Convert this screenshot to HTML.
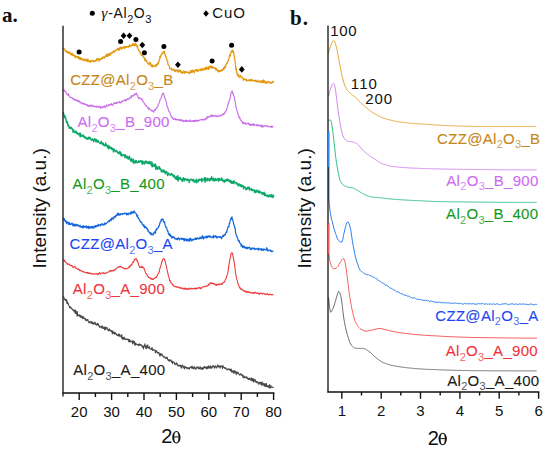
<!DOCTYPE html>
<html><head><meta charset="utf-8"><style>
html,body{margin:0;padding:0;background:#fff;width:550px;height:449px;overflow:hidden;font-family:"Liberation Sans",sans-serif;}
svg{display:block;}
</style></head><body>
<svg width="550" height="449" viewBox="0 0 550 449">
<polyline fill="none" stroke="#E3980F" stroke-width="1.25" stroke-linejoin="round" points="63.0,47.7 63.4,48.4 63.7,48.4 64.1,48.3 64.4,49.1 64.8,49.1 65.1,50.3 65.5,51.7 65.8,50.6 66.2,50.8 66.5,52.0 66.9,52.1 67.2,52.2 67.6,51.6 67.9,52.6 68.3,53.4 68.6,52.0 69.0,53.0 69.3,52.0 69.7,52.7 70.0,52.5 70.4,54.0 70.7,53.4 71.1,54.8 71.4,54.9 71.8,54.8 72.1,53.1 72.5,54.8 72.8,55.4 73.2,55.7 73.5,54.5 73.9,55.5 74.2,55.3 74.6,55.6 74.9,57.2 75.3,55.8 75.6,56.6 76.0,57.5 76.3,56.4 76.7,56.9 77.0,57.2 77.4,57.3 77.7,56.4 78.1,57.6 78.4,58.7 78.8,56.5 79.1,58.6 79.5,58.1 79.8,57.7 80.2,59.9 80.5,59.1 80.9,57.6 81.2,58.8 81.6,59.3 81.9,58.9 82.3,59.7 82.6,59.2 83.0,60.0 83.3,60.7 83.7,59.1 84.0,60.0 84.4,59.5 84.7,60.1 85.1,59.1 85.4,59.7 85.8,60.1 86.1,61.0 86.5,61.3 86.8,59.4 87.2,59.9 87.5,61.1 87.9,59.1 88.2,60.4 88.6,60.7 88.9,61.9 89.3,61.5 89.6,60.7 90.0,60.7 90.3,60.8 90.7,62.3 91.0,60.7 91.4,60.9 91.7,61.4 92.1,61.0 92.4,60.9 92.8,60.2 93.1,61.0 93.5,60.6 93.8,61.8 94.2,61.4 94.5,60.8 94.9,61.2 95.2,60.3 95.6,61.4 95.9,60.4 96.3,60.8 96.6,59.2 97.0,60.4 97.3,58.7 97.7,58.3 98.0,59.6 98.4,59.0 98.7,59.8 99.1,61.3 99.4,58.8 99.8,58.8 100.1,59.4 100.5,59.5 100.8,58.8 101.2,58.6 101.5,59.2 101.9,58.9 102.2,57.5 102.6,58.1 102.9,58.1 103.3,57.0 103.6,57.9 104.0,56.9 104.3,58.2 104.7,57.4 105.0,57.1 105.4,56.4 105.7,56.6 106.1,54.9 106.4,55.4 106.8,56.4 107.1,54.2 107.5,56.3 107.8,54.0 108.2,55.8 108.5,54.3 108.9,55.4 109.2,54.7 109.6,53.1 109.9,55.1 110.3,55.1 110.6,53.6 111.0,53.3 111.3,53.1 111.7,52.3 112.0,53.7 112.4,52.1 112.7,52.3 113.1,51.5 113.4,51.4 113.8,50.6 114.1,52.4 114.5,51.0 114.8,51.7 115.2,50.7 115.5,50.0 115.9,50.0 116.2,49.7 116.6,49.9 116.9,49.5 117.3,49.4 117.6,48.4 118.0,48.7 118.3,50.5 118.7,48.6 119.0,48.2 119.4,49.2 119.7,49.9 120.1,47.5 120.4,48.4 120.8,48.0 121.1,47.0 121.5,48.9 121.8,48.2 122.2,48.2 122.5,47.4 122.9,48.3 123.2,47.4 123.6,47.6 123.9,46.7 124.3,46.5 124.6,48.5 125.0,46.9 125.3,47.4 125.7,47.1 126.0,46.7 126.4,46.5 126.7,47.3 127.1,46.5 127.4,46.5 127.8,46.5 128.1,47.4 128.5,46.9 128.8,46.5 129.2,45.6 129.5,44.9 129.9,46.6 130.2,46.5 130.6,45.5 130.9,45.8 131.3,45.8 131.6,45.7 132.0,45.5 132.3,44.2 132.7,45.7 133.0,43.3 133.4,44.9 133.7,44.5 134.1,44.8 134.4,45.6 134.8,45.4 135.1,43.4 135.5,43.1 135.8,45.3 136.2,44.1 136.5,45.5 136.9,46.9 137.2,45.8 137.6,46.3 137.9,48.9 138.3,49.5 138.6,50.0 139.0,50.9 139.3,50.9 139.7,51.1 140.0,52.8 140.4,52.7 140.7,52.7 141.1,54.9 141.4,54.9 141.8,55.7 142.1,55.0 142.5,55.6 142.8,55.7 143.2,56.2 143.5,57.4 143.9,57.0 144.2,58.4 144.6,58.8 144.9,60.7 145.3,58.5 145.6,60.8 146.0,60.6 146.3,61.2 146.7,60.5 147.0,61.8 147.4,63.2 147.7,62.9 148.1,63.3 148.4,63.3 148.8,64.7 149.1,64.1 149.5,62.6 149.8,64.0 150.2,63.3 150.5,62.5 150.9,64.9 151.2,66.5 151.6,65.7 151.9,64.8 152.3,65.1 152.6,66.9 153.0,66.1 153.3,66.0 153.7,65.9 154.0,66.0 154.4,66.5 154.7,66.3 155.1,65.9 155.4,64.8 155.8,66.0 156.1,64.9 156.5,66.2 156.8,64.1 157.2,64.8 157.5,64.4 157.9,62.6 158.2,64.2 158.6,63.1 158.9,60.6 159.3,60.6 159.6,59.5 160.0,56.2 160.3,57.7 160.7,56.5 161.0,55.8 161.4,54.1 161.7,54.0 162.1,53.4 162.4,53.8 162.8,52.5 163.1,51.8 163.5,52.9 163.8,51.5 164.2,52.1 164.5,51.5 164.9,54.9 165.2,55.1 165.6,55.9 165.9,56.9 166.3,57.7 166.6,59.1 167.0,59.9 167.3,61.0 167.7,62.2 168.0,64.4 168.4,64.7 168.7,65.2 169.1,65.6 169.4,66.4 169.8,68.8 170.1,68.5 170.5,68.5 170.8,68.5 171.2,68.1 171.5,69.2 171.9,70.2 172.2,69.4 172.6,69.7 172.9,69.9 173.3,70.2 173.6,68.9 174.0,70.1 174.3,69.7 174.7,71.1 175.0,69.8 175.4,70.9 175.7,71.7 176.1,70.3 176.4,70.1 176.8,70.7 177.1,70.6 177.5,69.9 177.8,71.1 178.2,72.4 178.5,70.6 178.9,70.7 179.2,70.1 179.6,71.3 179.9,70.1 180.3,70.4 180.6,72.4 181.0,70.8 181.3,72.5 181.7,72.9 182.0,72.0 182.4,72.3 182.7,73.5 183.1,71.9 183.4,71.6 183.8,71.0 184.1,72.2 184.5,73.3 184.8,72.9 185.2,71.4 185.5,71.5 185.9,71.8 186.2,72.5 186.6,72.1 186.9,72.4 187.3,72.5 187.6,72.0 188.0,72.2 188.3,72.4 188.7,72.2 189.0,72.7 189.4,73.8 189.7,72.8 190.1,72.3 190.4,70.9 190.8,72.5 191.1,70.5 191.5,70.8 191.8,72.5 192.2,72.2 192.5,71.4 192.9,70.0 193.2,70.9 193.6,70.6 193.9,71.5 194.3,72.8 194.6,71.1 195.0,70.2 195.3,69.8 195.7,70.7 196.0,70.5 196.4,69.7 196.7,70.6 197.1,69.6 197.4,71.3 197.8,71.3 198.1,71.2 198.5,69.9 198.8,70.7 199.2,70.1 199.5,69.9 199.9,69.9 200.2,69.0 200.6,68.9 200.9,70.6 201.3,69.7 201.6,70.0 202.0,70.6 202.3,68.3 202.7,69.0 203.0,69.7 203.4,69.7 203.7,69.0 204.1,70.0 204.4,69.2 204.8,68.0 205.1,68.0 205.5,69.3 205.8,68.9 206.2,66.8 206.5,69.3 206.9,68.6 207.2,69.0 207.6,67.5 207.9,67.4 208.3,66.7 208.6,69.5 209.0,67.2 209.3,68.6 209.7,66.7 210.0,67.3 210.4,65.8 210.7,66.8 211.1,67.9 211.4,66.1 211.8,68.1 212.1,67.6 212.5,66.6 212.8,67.2 213.2,67.4 213.5,68.0 213.9,67.8 214.2,67.7 214.6,68.3 214.9,67.9 215.3,67.9 215.6,69.1 216.0,70.0 216.3,68.3 216.7,69.8 217.0,69.5 217.4,69.5 217.7,71.2 218.1,70.3 218.4,72.0 218.8,70.3 219.1,71.4 219.5,70.9 219.8,70.5 220.2,71.5 220.5,70.8 220.9,71.3 221.2,70.7 221.6,69.7 221.9,70.2 222.3,70.2 222.6,70.6 223.0,68.9 223.3,69.3 223.7,67.7 224.0,69.3 224.4,67.6 224.7,66.5 225.1,67.4 225.4,67.7 225.8,64.9 226.1,64.5 226.5,64.1 226.8,63.0 227.2,63.4 227.5,61.7 227.9,60.9 228.2,61.1 228.6,59.0 228.9,59.0 229.3,56.9 229.6,55.7 230.0,54.3 230.3,56.2 230.7,53.2 231.0,52.5 231.4,51.3 231.7,50.7 232.1,50.4 232.4,52.2 232.8,50.4 233.1,50.8 233.5,52.3 233.8,53.3 234.2,56.3 234.5,58.3 234.9,59.9 235.2,62.7 235.6,66.0 235.9,69.5 236.3,68.2 236.6,72.7 237.0,72.8 237.3,75.3 237.7,74.1 238.0,75.1 238.4,74.5 238.7,75.2 239.1,77.3 239.4,77.1 239.8,76.3 240.1,76.1 240.5,75.5 240.8,76.9 241.2,77.3 241.5,77.5 241.9,77.7 242.2,77.0 242.6,78.1 242.9,78.4 243.3,79.6 243.6,80.3 244.0,78.9 244.3,78.7 244.7,79.4 245.0,79.2 245.4,79.3 245.7,80.0 246.1,79.3 246.4,80.8 246.8,80.3 247.1,80.7 247.5,80.4 247.8,80.0 248.2,79.8 248.5,80.4 248.9,80.2 249.2,80.9 249.6,80.7 249.9,79.6 250.3,80.8 250.6,79.7 251.0,80.3 251.3,80.6 251.7,79.2 252.0,80.9 252.4,81.0 252.7,80.8 253.1,80.6 253.4,80.7 253.8,80.2 254.1,80.8 254.5,80.6 254.8,81.2 255.2,80.2 255.5,81.4 255.9,81.4 256.2,81.2 256.6,81.0 256.9,81.8 257.3,80.1 257.6,81.8 258.0,81.7 258.3,81.7 258.7,81.8 259.0,81.0 259.4,81.4 259.7,82.1 260.1,82.0 260.4,81.8 260.8,80.5 261.1,82.2 261.5,82.7 261.8,82.6 262.2,82.0 262.5,80.6 262.9,82.6 263.2,81.8 263.6,79.9 263.9,82.3 264.3,80.8 264.6,81.0 265.0,81.5 265.3,83.1 265.7,81.8 266.0,82.3 266.4,83.5 266.7,83.4 267.1,82.1 267.4,82.0 267.8,81.2 268.1,81.7 268.5,82.6 268.8,82.6 269.2,82.4 269.5,83.1 269.9,81.7 270.2,82.3 270.6,82.9 270.9,82.8 271.3,83.3 271.6,82.7 272.0,82.2 272.3,82.7 272.7,81.7 273.0,81.2 273.4,83.0"/>
<polyline fill="none" stroke="#C86BE8" stroke-width="1.1" stroke-linejoin="round" points="63.3,89.6 63.7,90.3 64.1,89.7 64.5,91.0 64.9,91.4 65.3,91.7 65.7,91.4 66.1,92.9 66.5,94.1 66.9,94.2 67.3,94.0 67.7,94.7 68.1,95.5 68.5,93.9 68.9,95.6 69.3,96.3 69.7,96.7 70.1,97.5 70.5,97.5 70.9,97.3 71.3,97.5 71.7,98.0 72.1,97.5 72.5,98.0 72.9,98.8 73.3,99.6 73.7,98.7 74.1,98.9 74.5,99.3 74.9,100.1 75.3,99.6 75.7,100.6 76.1,99.5 76.5,100.2 76.9,100.4 77.3,101.2 77.7,101.5 78.1,100.4 78.5,100.9 78.9,101.8 79.3,101.5 79.7,101.2 80.1,102.8 80.5,102.8 80.9,103.0 81.3,102.6 81.7,103.6 82.1,103.1 82.5,104.0 82.9,103.1 83.3,103.3 83.7,104.0 84.1,103.6 84.5,104.5 84.9,104.4 85.3,103.9 85.7,104.6 86.1,104.5 86.5,105.3 86.9,104.5 87.3,104.7 87.7,105.8 88.1,106.4 88.5,106.4 88.9,105.4 89.3,105.6 89.7,106.4 90.1,105.6 90.5,105.2 90.9,105.9 91.3,106.1 91.7,105.5 92.1,105.1 92.5,105.3 92.9,106.5 93.3,105.8 93.7,106.2 94.1,106.5 94.5,106.8 94.9,106.3 95.3,106.8 95.7,106.1 96.1,106.5 96.5,106.2 96.9,107.4 97.3,106.8 97.7,106.5 98.1,106.7 98.5,106.8 98.9,107.4 99.3,106.1 99.7,106.4 100.1,106.8 100.5,108.4 100.9,107.5 101.3,106.9 101.7,107.3 102.1,108.0 102.5,106.7 102.9,106.5 103.3,107.3 103.7,106.9 104.1,106.9 104.5,106.1 104.9,107.4 105.3,107.2 105.7,106.4 106.1,106.4 106.5,104.8 106.9,106.2 107.3,105.6 107.7,105.8 108.1,105.9 108.5,105.2 108.9,104.3 109.3,105.4 109.7,104.7 110.1,104.8 110.5,104.5 110.9,104.6 111.3,103.4 111.7,105.2 112.1,104.6 112.5,105.0 112.9,105.3 113.3,104.1 113.7,103.0 114.1,103.4 114.5,103.1 114.9,103.4 115.3,103.6 115.7,102.3 116.1,103.5 116.5,102.3 116.9,103.2 117.3,102.8 117.7,102.6 118.1,102.6 118.5,102.2 118.9,102.0 119.3,101.3 119.7,102.1 120.1,103.0 120.5,102.9 120.9,102.4 121.3,102.0 121.7,101.1 122.1,102.1 122.5,101.1 122.9,101.0 123.3,100.7 123.7,100.8 124.1,100.4 124.5,100.4 124.9,99.7 125.3,100.0 125.7,101.3 126.1,99.8 126.5,99.6 126.9,99.8 127.3,99.7 127.7,98.5 128.1,98.8 128.5,99.2 128.9,98.7 129.3,98.3 129.7,98.8 130.1,97.3 130.5,97.5 130.9,96.8 131.3,97.7 131.7,95.5 132.1,95.9 132.5,95.7 132.9,96.0 133.3,95.8 133.7,95.9 134.1,94.1 134.5,95.1 134.9,94.3 135.3,93.8 135.7,94.3 136.1,93.5 136.5,93.2 136.9,94.8 137.3,95.0 137.7,96.2 138.1,97.3 138.5,97.6 138.9,98.7 139.3,98.0 139.7,97.5 140.1,98.2 140.5,98.4 140.9,98.5 141.3,99.7 141.7,99.4 142.1,99.0 142.5,100.9 142.9,100.9 143.3,101.7 143.7,102.2 144.1,103.0 144.5,103.3 144.9,104.6 145.3,104.8 145.7,105.4 146.1,106.0 146.5,105.5 146.9,106.8 147.3,107.2 147.7,107.8 148.1,107.3 148.5,109.3 148.9,108.8 149.3,108.4 149.7,108.5 150.1,109.6 150.5,110.0 150.9,109.9 151.3,110.6 151.7,110.3 152.1,111.2 152.5,110.6 152.9,111.0 153.3,111.5 153.7,112.3 154.1,110.1 154.5,110.2 154.9,109.7 155.3,110.2 155.7,108.8 156.1,108.7 156.5,108.6 156.9,107.6 157.3,107.1 157.7,106.6 158.1,104.8 158.5,104.2 158.9,103.6 159.3,102.8 159.7,101.4 160.1,99.4 160.5,99.0 160.9,98.7 161.3,97.5 161.7,96.0 162.1,94.5 162.5,94.4 162.9,93.3 163.3,93.1 163.7,93.9 164.1,96.1 164.5,96.6 164.9,98.4 165.3,98.8 165.7,100.7 166.1,101.2 166.5,102.9 166.9,105.8 167.3,106.4 167.7,107.2 168.1,108.8 168.5,110.2 168.9,111.6 169.3,111.6 169.7,111.9 170.1,113.6 170.5,114.6 170.9,115.4 171.3,116.8 171.7,116.9 172.1,117.8 172.5,117.2 172.9,118.6 173.3,119.4 173.7,118.9 174.1,118.8 174.5,118.9 174.9,119.9 175.3,118.6 175.7,119.2 176.1,119.6 176.5,119.9 176.9,119.3 177.3,119.9 177.7,119.6 178.1,119.9 178.5,119.9 178.9,119.4 179.3,120.1 179.7,120.6 180.1,119.7 180.5,120.1 180.9,120.7 181.3,119.8 181.7,120.5 182.1,119.8 182.5,121.1 182.9,121.8 183.3,121.6 183.7,120.4 184.1,121.0 184.5,120.7 184.9,120.7 185.3,121.5 185.7,120.0 186.1,121.3 186.5,120.8 186.9,121.6 187.3,120.9 187.7,120.5 188.1,121.0 188.5,121.3 188.9,120.9 189.3,121.2 189.7,120.7 190.1,119.8 190.5,121.5 190.9,121.4 191.3,121.1 191.7,121.0 192.1,121.6 192.5,120.7 192.9,120.6 193.3,120.9 193.7,121.6 194.1,120.2 194.5,121.6 194.9,120.6 195.3,120.3 195.7,121.5 196.1,120.7 196.5,120.0 196.9,120.5 197.3,121.1 197.7,121.2 198.1,120.2 198.5,120.6 198.9,120.7 199.3,119.9 199.7,120.4 200.1,120.1 200.5,119.7 200.9,119.6 201.3,119.9 201.7,119.8 202.1,119.3 202.5,119.3 202.9,120.1 203.3,119.5 203.7,119.8 204.1,119.8 204.5,119.3 204.9,120.1 205.3,118.2 205.7,118.9 206.1,118.0 206.5,119.0 206.9,118.7 207.3,116.4 207.7,116.7 208.1,117.4 208.5,117.3 208.9,117.0 209.3,116.4 209.7,116.6 210.1,116.5 210.5,116.0 210.9,116.6 211.3,114.8 211.7,116.3 212.1,115.4 212.5,116.5 212.9,115.9 213.3,115.5 213.7,116.2 214.1,115.5 214.5,115.5 214.9,115.1 215.3,116.0 215.7,116.3 216.1,116.6 216.5,115.9 216.9,116.6 217.3,116.0 217.7,115.9 218.1,116.3 218.5,116.6 218.9,115.8 219.3,115.8 219.7,115.8 220.1,115.9 220.5,115.2 220.9,116.1 221.3,115.1 221.7,115.3 222.1,114.4 222.5,114.7 222.9,114.4 223.3,113.6 223.7,114.6 224.1,113.3 224.5,113.7 224.9,112.8 225.3,111.5 225.7,111.1 226.1,110.9 226.5,109.8 226.9,108.8 227.3,107.4 227.7,105.3 228.1,104.8 228.5,102.4 228.9,102.5 229.3,100.6 229.7,99.3 230.1,97.9 230.5,96.4 230.9,93.7 231.3,92.2 231.7,91.6 232.1,90.9 232.5,91.9 232.9,94.2 233.3,93.9 233.7,96.2 234.1,96.4 234.5,98.7 234.9,100.2 235.3,102.3 235.7,104.8 236.1,107.6 236.5,108.8 236.9,110.6 237.3,111.6 237.7,113.6 238.1,114.2 238.5,115.8 238.9,116.3 239.3,118.2 239.7,117.0 240.1,118.7 240.5,120.1 240.9,120.2 241.3,120.5 241.7,121.3 242.1,121.2 242.5,122.3 242.9,123.8 243.3,123.3 243.7,122.2 244.1,122.5 244.5,122.9 244.9,123.9 245.3,123.0 245.7,123.2 246.1,124.2 246.5,124.3 246.9,123.7 247.3,123.4 247.7,123.2 248.1,123.7 248.5,123.0 248.9,124.7 249.3,124.0 249.7,124.7 250.1,125.5 250.5,125.2 250.9,124.0 251.3,125.1 251.7,125.4 252.1,124.4 252.5,124.3 252.9,124.8 253.3,124.0 253.7,125.8 254.1,123.7 254.5,124.5 254.9,125.0 255.3,125.0 255.7,125.3 256.1,125.4 256.5,125.1 256.9,125.9 257.3,124.2 257.7,125.4 258.1,125.0 258.5,125.5 258.9,125.6 259.3,125.0 259.7,125.2 260.1,126.0 260.5,125.8 260.9,125.3 261.3,126.8 261.7,127.0 262.1,124.9 262.5,126.0 262.9,127.2 263.3,126.3 263.7,126.0 264.1,125.8 264.5,125.7 264.9,125.9 265.3,125.8 265.7,126.5 266.1,125.9 266.5,125.9 266.9,125.6 267.3,126.2 267.7,125.8 268.1,126.3 268.5,127.0 268.9,126.6 269.3,126.8 269.7,126.7 270.1,126.6 270.5,126.5 270.9,126.5 271.3,127.1 271.7,126.1 272.1,127.5 272.5,126.8 272.9,126.4 273.3,126.6"/>
<polyline fill="none" stroke="#0EA86A" stroke-width="1.4" stroke-linejoin="round" points="63.3,112.0 63.6,114.0 64.0,114.3 64.3,117.2 64.7,116.4 65.1,116.0 65.4,118.3 65.8,118.0 66.1,120.6 66.5,122.4 66.8,122.7 67.2,121.5 67.5,122.7 67.9,125.7 68.2,124.8 68.6,125.1 68.9,126.6 69.3,128.4 69.6,127.7 70.0,127.1 70.3,127.7 70.7,128.3 71.0,127.6 71.4,127.5 71.7,128.9 72.1,128.3 72.4,129.5 72.8,130.0 73.1,132.4 73.5,129.7 73.8,130.7 74.2,131.0 74.5,131.8 74.9,132.7 75.2,131.5 75.6,131.5 75.9,131.0 76.3,131.9 76.6,133.6 77.0,133.4 77.3,132.6 77.7,133.4 78.0,134.0 78.4,134.7 78.7,133.9 79.1,134.4 79.4,133.1 79.8,133.9 80.1,136.8 80.5,133.3 80.8,135.3 81.2,136.0 81.5,135.6 81.9,135.3 82.2,136.2 82.6,136.4 82.9,136.5 83.3,134.9 83.6,136.7 84.0,136.1 84.3,136.5 84.7,137.4 85.0,137.9 85.4,138.3 85.7,137.0 86.1,138.5 86.4,138.8 86.8,138.9 87.1,139.2 87.5,137.9 87.8,138.0 88.2,139.0 88.5,137.1 88.9,138.7 89.2,138.1 89.6,138.3 89.9,137.2 90.3,138.1 90.6,139.0 91.0,140.0 91.3,140.2 91.7,139.3 92.0,139.3 92.4,138.8 92.7,140.1 93.1,139.6 93.4,140.5 93.8,141.7 94.1,140.1 94.5,138.8 94.8,139.5 95.2,139.0 95.5,139.4 95.9,141.8 96.2,140.9 96.6,139.4 96.9,141.5 97.3,142.2 97.6,140.8 98.0,140.6 98.3,141.1 98.7,141.8 99.0,142.3 99.4,143.0 99.7,143.2 100.1,143.4 100.4,143.7 100.8,143.2 101.1,141.3 101.5,142.9 101.8,143.5 102.2,143.0 102.5,144.4 102.9,143.4 103.2,143.1 103.6,145.5 103.9,145.0 104.3,144.8 104.6,145.6 105.0,145.9 105.3,145.4 105.7,143.0 106.0,144.9 106.4,145.3 106.7,145.0 107.1,146.3 107.4,147.4 107.8,146.0 108.1,145.6 108.5,148.8 108.8,146.6 109.2,146.1 109.5,147.6 109.9,148.0 110.2,147.1 110.6,148.7 110.9,147.6 111.3,147.4 111.6,148.6 112.0,149.3 112.3,148.2 112.7,149.3 113.0,149.0 113.4,152.0 113.7,148.8 114.1,151.0 114.4,149.8 114.8,149.9 115.1,150.9 115.5,151.2 115.8,151.8 116.2,151.1 116.5,150.4 116.9,150.7 117.2,151.9 117.6,152.2 117.9,153.1 118.3,152.4 118.6,153.3 119.0,153.9 119.3,152.8 119.7,151.5 120.0,152.0 120.4,152.0 120.7,155.1 121.1,153.0 121.4,155.2 121.8,154.7 122.1,156.0 122.5,155.6 122.8,154.7 123.2,154.8 123.5,155.3 123.9,155.6 124.2,155.2 124.6,155.9 124.9,157.6 125.3,154.7 125.6,156.8 126.0,155.9 126.3,157.1 126.7,157.9 127.0,157.3 127.4,158.3 127.7,156.2 128.1,159.0 128.4,157.5 128.8,158.9 129.1,158.7 129.5,156.3 129.8,158.2 130.2,159.3 130.5,160.8 130.9,159.8 131.2,159.9 131.6,158.5 131.9,161.4 132.3,162.0 132.6,160.4 133.0,160.4 133.3,159.2 133.7,161.7 134.0,163.5 134.4,161.8 134.7,162.4 135.1,161.8 135.4,160.5 135.8,162.8 136.1,160.4 136.5,161.5 136.8,162.0 137.2,162.7 137.5,162.3 137.9,162.4 138.2,161.4 138.6,160.9 138.9,162.3 139.3,161.6 139.6,161.1 140.0,161.1 140.3,161.9 140.7,160.6 141.0,161.1 141.4,160.9 141.7,162.6 142.1,162.8 142.4,164.4 142.8,161.0 143.1,161.8 143.5,163.4 143.8,162.3 144.2,162.2 144.5,164.1 144.9,162.2 145.2,161.4 145.6,161.3 145.9,162.9 146.3,162.8 146.6,161.3 147.0,161.7 147.3,163.1 147.7,163.2 148.0,162.1 148.4,163.4 148.7,163.5 149.1,161.4 149.4,162.9 149.8,163.7 150.1,162.9 150.5,161.6 150.8,163.5 151.2,164.6 151.5,165.6 151.9,162.1 152.2,166.9 152.6,163.5 152.9,165.7 153.3,166.2 153.6,166.1 154.0,165.5 154.3,164.5 154.7,166.4 155.0,165.4 155.4,163.9 155.7,169.2 156.1,167.4 156.4,168.7 156.8,166.3 157.1,168.8 157.5,169.1 157.8,169.3 158.2,168.0 158.5,167.1 158.9,168.3 159.2,166.6 159.6,167.3 159.9,169.2 160.3,168.4 160.6,169.4 161.0,169.6 161.3,171.8 161.7,171.4 162.0,170.3 162.4,171.7 162.7,170.1 163.1,170.7 163.4,172.1 163.8,170.2 164.1,171.3 164.5,170.5 164.8,172.0 165.2,173.7 165.5,171.6 165.9,172.7 166.2,171.8 166.6,171.7 166.9,171.8 167.3,174.5 167.6,175.6 168.0,173.9 168.3,173.0 168.7,174.5 169.0,173.7 169.4,174.9 169.7,174.6 170.1,174.8 170.4,175.2 170.8,174.3 171.1,174.6 171.5,173.5 171.8,174.9 172.2,174.2 172.5,175.6 172.9,175.0 173.2,176.2 173.6,176.8 173.9,175.2 174.3,175.9 174.6,176.0 175.0,177.8 175.3,178.9 175.7,178.3 176.0,177.3 176.4,179.2 176.7,176.5 177.1,179.5 177.4,177.5 177.8,175.6 178.1,180.9 178.5,179.9 178.8,177.5 179.2,178.8 179.5,178.5 179.9,178.9 180.2,177.4 180.6,178.3 180.9,179.4 181.3,179.3 181.6,180.3 182.0,179.2 182.3,181.5 182.7,178.6 183.0,179.6 183.4,177.6 183.7,178.3 184.1,180.8 184.4,178.6 184.8,180.1 185.1,179.6 185.5,178.7 185.8,179.4 186.2,179.2 186.5,179.3 186.9,180.5 187.2,180.4 187.6,179.3 187.9,179.0 188.3,180.2 188.6,179.8 189.0,180.9 189.3,182.5 189.7,180.8 190.0,180.0 190.4,179.9 190.7,179.3 191.1,179.2 191.4,179.2 191.8,179.8 192.1,179.8 192.5,180.9 192.8,179.8 193.2,180.0 193.5,179.1 193.9,181.8 194.2,180.7 194.6,182.0 194.9,181.0 195.3,181.7 195.6,180.1 196.0,181.0 196.3,182.9 196.7,179.1 197.0,181.4 197.4,181.9 197.7,180.7 198.1,181.0 198.4,181.4 198.8,179.5 199.1,180.5 199.5,179.2 199.8,179.4 200.2,179.4 200.5,179.8 200.9,180.0 201.2,180.3 201.6,178.4 201.9,181.7 202.3,180.8 202.6,180.4 203.0,179.3 203.3,179.5 203.7,180.1 204.0,179.9 204.4,177.8 204.7,180.1 205.1,182.2 205.4,177.6 205.8,180.3 206.1,179.7 206.5,179.2 206.8,180.6 207.2,178.1 207.5,179.5 207.9,180.7 208.2,179.1 208.6,178.9 208.9,179.4 209.3,178.9 209.6,180.8 210.0,178.4 210.3,180.2 210.7,178.1 211.0,180.0 211.4,179.2 211.7,176.8 212.1,179.3 212.4,178.3 212.8,178.9 213.1,180.8 213.5,178.2 213.8,178.3 214.2,180.7 214.5,179.4 214.9,180.8 215.2,179.6 215.6,178.4 215.9,179.2 216.3,180.5 216.6,180.2 217.0,179.3 217.3,179.3 217.7,179.2 218.0,178.7 218.4,181.2 218.7,179.4 219.1,178.3 219.4,178.9 219.8,180.2 220.1,180.1 220.5,179.4 220.8,178.9 221.2,179.7 221.5,178.0 221.9,178.5 222.2,180.6 222.6,179.4 222.9,180.3 223.3,181.2 223.6,180.7 224.0,180.2 224.3,182.3 224.7,181.0 225.0,180.0 225.4,181.2 225.7,180.9 226.1,179.8 226.4,180.8 226.8,180.6 227.1,178.9 227.5,180.8 227.8,180.7 228.2,180.6 228.5,179.5 228.9,180.9 229.2,181.3 229.6,181.5 229.9,180.4 230.3,182.2 230.6,180.5 231.0,181.6 231.3,183.2 231.7,181.3 232.0,181.6 232.4,183.3 232.7,182.0 233.1,182.2 233.4,182.8 233.8,183.7 234.1,180.6 234.5,182.1 234.8,182.1 235.2,182.1 235.5,182.5 235.9,182.6 236.2,183.8 236.6,182.8 236.9,183.9 237.3,184.3 237.6,183.4 238.0,184.4 238.3,186.0 238.7,184.9 239.0,184.1 239.4,184.8 239.7,184.1 240.1,185.4 240.4,186.2 240.8,184.7 241.1,185.5 241.5,186.9 241.8,185.5 242.2,186.3 242.5,185.3 242.9,185.7 243.2,186.1 243.6,188.9 243.9,186.6 244.3,186.6 244.6,186.7 245.0,187.2 245.3,188.1 245.7,187.8 246.0,189.8 246.4,188.1 246.7,189.5 247.1,188.5 247.4,188.9 247.8,187.1 248.1,188.5 248.5,188.7 248.8,188.7 249.2,187.0 249.5,190.0 249.9,188.9 250.2,189.0 250.6,189.3 250.9,189.5 251.3,190.2 251.6,188.7 252.0,189.2 252.3,190.5 252.7,190.4 253.0,190.1 253.4,190.0 253.7,189.9 254.1,190.8 254.4,192.1 254.8,190.0 255.1,192.6 255.5,192.1 255.8,191.0 256.2,192.3 256.5,190.3 256.9,190.1 257.2,190.7 257.6,191.6 257.9,191.8 258.3,191.8 258.6,192.5 259.0,190.5 259.3,193.1 259.7,191.4 260.0,192.2 260.4,192.6 260.7,192.0 261.1,191.9 261.4,192.3 261.8,193.4 262.1,194.1 262.5,194.2 262.8,192.8 263.2,193.1 263.5,193.1 263.9,194.5 264.2,192.3 264.6,195.5 264.9,193.9 265.3,193.8 265.6,195.0 266.0,195.7 266.3,195.2 266.7,196.0 267.0,195.2 267.4,196.3 267.7,196.5 268.1,195.3 268.4,196.9 268.8,195.8 269.1,195.8 269.5,194.9 269.8,195.6 270.2,196.8 270.5,194.9 270.9,196.9 271.2,196.7 271.6,196.7 271.9,194.4 272.3,196.6 272.6,197.4 273.0,196.1 273.3,197.0 273.7,194.8"/>
<polyline fill="none" stroke="#1466DC" stroke-width="1.2" stroke-linejoin="round" points="63.3,219.1 63.6,218.6 64.0,220.0 64.3,218.5 64.7,220.7 65.1,220.5 65.4,221.6 65.8,220.7 66.1,221.3 66.5,223.6 66.8,221.7 67.2,222.0 67.5,222.6 67.9,222.2 68.2,223.9 68.6,224.4 68.9,222.8 69.3,222.3 69.6,224.4 70.0,224.4 70.3,224.3 70.7,224.7 71.0,223.3 71.4,223.9 71.7,223.1 72.1,223.2 72.4,224.9 72.8,223.9 73.1,226.0 73.5,224.5 73.8,224.1 74.2,225.2 74.5,225.9 74.9,225.1 75.2,224.0 75.6,225.2 75.9,225.9 76.3,224.7 76.6,224.6 77.0,226.0 77.3,225.5 77.7,224.7 78.0,225.3 78.4,225.1 78.7,226.0 79.1,226.0 79.4,226.8 79.8,226.6 80.1,225.1 80.5,226.6 80.8,227.1 81.2,226.9 81.5,227.4 81.9,226.4 82.2,226.2 82.6,227.6 82.9,226.3 83.3,225.6 83.6,227.9 84.0,226.7 84.3,227.1 84.7,226.3 85.0,226.4 85.4,226.6 85.7,227.1 86.1,227.7 86.4,225.8 86.8,227.9 87.1,226.5 87.5,226.6 87.8,227.8 88.2,227.3 88.5,226.2 88.9,228.6 89.2,226.6 89.6,227.4 89.9,227.3 90.3,228.1 90.6,226.8 91.0,227.7 91.3,226.5 91.7,227.7 92.0,226.4 92.4,226.6 92.7,228.1 93.1,227.0 93.4,226.8 93.8,228.2 94.1,226.8 94.5,226.0 94.8,227.0 95.2,225.6 95.5,227.2 95.9,227.1 96.2,225.8 96.6,225.7 96.9,226.2 97.3,226.0 97.6,225.3 98.0,226.3 98.3,224.3 98.7,225.4 99.0,225.3 99.4,225.3 99.7,225.6 100.1,224.5 100.4,225.6 100.8,225.0 101.1,224.5 101.5,223.9 101.8,224.0 102.2,224.9 102.5,223.9 102.9,224.5 103.2,225.0 103.6,224.9 103.9,225.1 104.3,223.7 104.6,223.0 105.0,224.3 105.3,223.6 105.7,224.0 106.0,223.0 106.4,223.6 106.7,223.1 107.1,222.7 107.4,222.3 107.8,222.0 108.1,221.6 108.5,221.4 108.8,221.6 109.2,220.3 109.5,221.6 109.9,220.0 110.2,220.5 110.6,219.5 110.9,219.2 111.3,220.5 111.6,218.6 112.0,217.7 112.3,217.9 112.7,218.0 113.0,219.5 113.4,217.8 113.7,218.1 114.1,216.5 114.4,217.2 114.8,217.2 115.1,217.7 115.5,215.7 115.8,216.4 116.2,215.9 116.5,214.8 116.9,215.3 117.2,214.9 117.6,213.2 117.9,215.1 118.3,214.9 118.6,214.1 119.0,213.3 119.3,215.2 119.7,214.2 120.0,214.7 120.4,214.9 120.7,213.6 121.1,214.4 121.4,213.7 121.8,213.8 122.1,213.7 122.5,213.8 122.8,214.5 123.2,213.8 123.5,213.6 123.9,213.5 124.2,213.9 124.6,213.0 124.9,213.3 125.3,213.6 125.6,213.2 126.0,213.5 126.3,213.1 126.7,214.9 127.0,214.4 127.4,213.8 127.7,213.4 128.1,214.9 128.4,213.6 128.8,213.2 129.1,213.4 129.5,213.3 129.8,214.0 130.2,212.9 130.5,214.2 130.9,212.0 131.2,213.0 131.6,211.7 131.9,213.6 132.3,212.0 132.6,212.1 133.0,212.7 133.3,212.9 133.7,211.2 134.0,211.8 134.4,211.1 134.7,212.5 135.1,212.7 135.4,213.0 135.8,213.2 136.1,213.9 136.5,214.1 136.8,215.5 137.2,216.9 137.5,215.1 137.9,217.0 138.2,217.5 138.6,218.8 138.9,218.5 139.3,219.7 139.6,219.7 140.0,221.4 140.3,221.5 140.7,221.8 141.0,222.6 141.4,222.6 141.7,222.1 142.1,224.1 142.4,224.3 142.8,224.4 143.1,225.6 143.5,226.1 143.8,224.9 144.2,225.5 144.5,227.5 144.9,227.8 145.2,226.6 145.6,226.7 145.9,227.4 146.3,227.9 146.6,227.6 147.0,229.2 147.3,228.7 147.7,229.2 148.0,231.2 148.4,230.5 148.7,231.4 149.1,232.3 149.4,232.9 149.8,232.4 150.1,233.0 150.5,232.7 150.8,234.8 151.2,234.2 151.5,233.2 151.9,234.0 152.2,234.5 152.6,234.3 152.9,235.1 153.3,234.6 153.6,233.0 154.0,233.0 154.3,231.9 154.7,232.6 155.0,232.1 155.4,233.5 155.7,231.2 156.1,229.2 156.4,229.8 156.8,229.8 157.1,228.4 157.5,228.2 157.8,228.0 158.2,228.0 158.5,227.0 158.9,225.8 159.2,226.1 159.6,224.2 159.9,223.3 160.3,221.7 160.6,221.3 161.0,221.5 161.3,219.2 161.7,219.8 162.0,220.0 162.4,219.1 162.7,219.7 163.1,219.2 163.4,221.5 163.8,222.0 164.1,222.3 164.5,221.7 164.8,223.1 165.2,225.4 165.5,226.7 165.9,226.5 166.2,228.0 166.6,227.7 166.9,228.9 167.3,230.0 167.6,231.3 168.0,230.9 168.3,233.5 168.7,234.6 169.0,233.5 169.4,234.0 169.7,235.6 170.1,235.1 170.4,234.2 170.8,236.6 171.1,236.4 171.5,236.2 171.8,238.2 172.2,237.0 172.5,236.5 172.9,237.3 173.2,236.7 173.6,237.0 173.9,237.9 174.3,237.4 174.6,237.6 175.0,239.2 175.3,238.7 175.7,238.8 176.0,238.7 176.4,238.7 176.7,239.5 177.1,238.5 177.4,239.9 177.8,238.0 178.1,238.5 178.5,237.8 178.8,238.6 179.2,239.2 179.5,239.9 179.9,238.5 180.2,239.0 180.6,238.8 180.9,238.6 181.3,238.3 181.6,239.3 182.0,238.1 182.3,239.4 182.7,239.4 183.0,238.9 183.4,238.7 183.7,238.5 184.1,240.8 184.4,238.6 184.8,240.6 185.1,240.0 185.5,239.3 185.8,238.8 186.2,240.4 186.5,240.9 186.9,239.0 187.2,239.5 187.6,240.4 187.9,239.9 188.3,241.1 188.6,239.3 189.0,240.1 189.3,238.8 189.7,241.1 190.0,239.1 190.4,238.1 190.7,239.5 191.1,239.5 191.4,240.9 191.8,239.2 192.1,239.4 192.5,239.8 192.8,240.4 193.2,239.2 193.5,239.9 193.9,239.5 194.2,238.9 194.6,239.1 194.9,239.0 195.3,238.3 195.6,239.7 196.0,237.8 196.3,239.5 196.7,239.3 197.0,238.5 197.4,238.0 197.7,238.3 198.1,238.7 198.4,238.9 198.8,238.5 199.1,238.9 199.5,237.8 199.8,238.3 200.2,237.0 200.5,238.5 200.9,238.0 201.2,237.6 201.6,238.6 201.9,238.2 202.3,235.7 202.6,237.6 203.0,236.5 203.3,238.2 203.7,239.1 204.0,236.9 204.4,237.3 204.7,237.0 205.1,237.3 205.4,237.5 205.8,237.9 206.1,236.2 206.5,237.9 206.8,236.1 207.2,236.9 207.5,237.5 207.9,237.1 208.2,235.9 208.6,236.1 208.9,236.2 209.3,236.5 209.6,237.3 210.0,235.6 210.3,236.8 210.7,236.9 211.0,236.9 211.4,236.9 211.7,237.6 212.1,236.9 212.4,237.2 212.8,237.0 213.1,237.9 213.5,235.4 213.8,237.7 214.2,236.6 214.5,236.6 214.9,236.2 215.2,235.6 215.6,236.7 215.9,236.6 216.3,237.4 216.6,236.1 217.0,238.2 217.3,237.4 217.7,237.1 218.0,236.8 218.4,236.8 218.7,236.6 219.1,237.0 219.4,237.4 219.8,237.3 220.1,236.5 220.5,237.3 220.8,236.9 221.2,237.6 221.5,238.8 221.9,237.8 222.2,237.0 222.6,235.9 222.9,235.7 223.3,235.2 223.6,236.6 224.0,235.2 224.3,235.3 224.7,234.4 225.0,234.4 225.4,234.8 225.7,232.9 226.1,232.6 226.4,231.7 226.8,232.3 227.1,230.1 227.5,229.0 227.8,227.7 228.2,226.5 228.5,226.6 228.9,226.9 229.2,223.3 229.6,223.6 229.9,222.0 230.3,219.9 230.6,219.4 231.0,218.5 231.3,217.6 231.7,219.3 232.0,216.9 232.4,219.2 232.7,220.2 233.1,220.8 233.4,222.6 233.8,224.5 234.1,225.3 234.5,226.7 234.8,228.3 235.2,227.9 235.5,232.0 235.9,234.1 236.2,234.8 236.6,236.3 236.9,235.9 237.3,237.9 237.6,238.2 238.0,239.1 238.3,241.0 238.7,240.4 239.0,241.5 239.4,240.9 239.7,242.7 240.1,243.5 240.4,243.4 240.8,243.9 241.1,246.1 241.5,244.4 241.8,244.8 242.2,245.3 242.5,246.9 242.9,247.7 243.2,246.7 243.6,246.1 243.9,246.4 244.3,247.6 244.6,246.3 245.0,248.1 245.3,248.2 245.7,247.4 246.0,247.9 246.4,248.0 246.7,248.7 247.1,247.0 247.4,248.6 247.8,247.6 248.1,247.4 248.5,248.1 248.8,247.9 249.2,247.4 249.5,247.1 249.9,247.6 250.2,249.3 250.6,249.7 250.9,248.9 251.3,249.3 251.6,248.1 252.0,248.5 252.3,248.8 252.7,247.9 253.0,248.0 253.4,248.8 253.7,248.5 254.1,248.0 254.4,249.1 254.8,248.7 255.1,249.6 255.5,248.9 255.8,248.7 256.2,249.0 256.5,248.9 256.9,248.5 257.2,248.8 257.6,249.6 257.9,249.5 258.3,250.0 258.6,248.0 259.0,248.9 259.3,248.9 259.7,249.3 260.0,248.9 260.4,248.9 260.7,249.9 261.1,249.5 261.4,248.6 261.8,250.3 262.1,250.1 262.5,249.1 262.8,250.1 263.2,249.1 263.5,250.4 263.9,249.5 264.2,249.1 264.6,249.5 264.9,249.3 265.3,250.0 265.6,250.0 266.0,250.0 266.3,249.6 266.7,247.5 267.0,250.2 267.4,248.8 267.7,250.4 268.1,251.1 268.4,250.5 268.8,250.1 269.1,250.3 269.5,250.4 269.8,250.2 270.2,250.2 270.5,250.1 270.9,251.6 271.2,250.8 271.6,251.6 271.9,250.8 272.3,251.1 272.6,251.0 273.0,251.5 273.3,251.8"/>
<polyline fill="none" stroke="#F03C3C" stroke-width="1.1" stroke-linejoin="round" points="63.3,259.5 63.7,259.6 64.1,260.0 64.5,261.4 64.9,261.1 65.3,261.5 65.7,262.6 66.1,262.9 66.5,263.0 66.9,263.0 67.3,264.4 67.7,263.9 68.1,264.3 68.5,264.3 68.9,264.0 69.3,264.3 69.7,265.2 70.1,265.4 70.5,265.4 70.9,265.2 71.3,265.3 71.7,265.9 72.1,265.6 72.5,266.8 72.9,267.0 73.3,267.9 73.7,267.3 74.1,266.9 74.5,266.9 74.9,266.1 75.3,267.4 75.7,267.8 76.1,268.4 76.5,268.5 76.9,268.7 77.3,268.8 77.7,269.2 78.1,269.7 78.5,268.9 78.9,269.4 79.3,269.3 79.7,270.7 80.1,270.8 80.5,270.8 80.9,270.2 81.3,271.0 81.7,271.0 82.1,271.3 82.5,271.4 82.9,271.8 83.3,271.6 83.7,272.3 84.1,272.1 84.5,272.0 84.9,272.2 85.3,272.2 85.7,272.8 86.1,272.5 86.5,272.8 86.9,272.7 87.3,272.3 87.7,273.4 88.1,272.7 88.5,273.5 88.9,273.5 89.3,272.8 89.7,273.1 90.1,273.4 90.5,273.3 90.9,273.3 91.3,274.1 91.7,273.8 92.1,274.1 92.5,273.8 92.9,274.1 93.3,273.7 93.7,274.0 94.1,274.2 94.5,274.0 94.9,273.8 95.3,273.5 95.7,274.0 96.1,274.1 96.5,273.8 96.9,273.6 97.3,274.1 97.7,274.8 98.1,273.7 98.5,273.9 98.9,273.8 99.3,272.6 99.7,273.7 100.1,273.3 100.5,274.1 100.9,273.3 101.3,273.1 101.7,273.3 102.1,273.3 102.5,273.0 102.9,273.1 103.3,272.6 103.7,273.0 104.1,273.3 104.5,273.7 104.9,273.1 105.3,272.9 105.7,273.2 106.1,273.0 106.5,273.2 106.9,272.8 107.3,272.3 107.7,272.3 108.1,272.1 108.5,272.1 108.9,271.9 109.3,271.4 109.7,270.7 110.1,271.2 110.5,270.5 110.9,271.2 111.3,271.0 111.7,270.2 112.1,271.0 112.5,270.9 112.9,270.5 113.3,270.9 113.7,270.9 114.1,269.5 114.5,270.2 114.9,269.7 115.3,269.5 115.7,269.4 116.1,268.5 116.5,268.2 116.9,267.8 117.3,267.6 117.7,267.6 118.1,266.8 118.5,266.8 118.9,267.2 119.3,266.9 119.7,267.0 120.1,266.0 120.5,266.5 120.9,266.7 121.3,267.1 121.7,267.0 122.1,267.8 122.5,267.6 122.9,267.8 123.3,268.0 123.7,268.4 124.1,268.1 124.5,268.9 124.9,268.7 125.3,268.7 125.7,268.6 126.1,268.8 126.5,268.9 126.9,268.7 127.3,268.3 127.7,268.3 128.1,267.8 128.5,268.0 128.9,267.2 129.3,266.1 129.7,267.2 130.1,266.4 130.5,265.5 130.9,265.4 131.3,264.5 131.7,265.1 132.1,263.8 132.5,262.3 132.9,262.6 133.3,261.6 133.7,262.0 134.1,260.3 134.5,259.3 134.9,259.8 135.3,259.2 135.7,259.0 136.1,258.3 136.5,259.7 136.9,260.9 137.3,260.3 137.7,262.3 138.1,262.5 138.5,264.9 138.9,265.4 139.3,266.3 139.7,267.5 140.1,267.5 140.5,267.0 140.9,267.4 141.3,266.8 141.7,266.2 142.1,267.6 142.5,266.7 142.9,267.0 143.3,267.9 143.7,267.7 144.1,268.5 144.5,269.7 144.9,270.7 145.3,271.9 145.7,273.2 146.1,273.4 146.5,274.4 146.9,275.1 147.3,275.0 147.7,276.1 148.1,276.1 148.5,277.4 148.9,277.6 149.3,277.7 149.7,277.5 150.1,278.3 150.5,278.1 150.9,278.9 151.3,278.8 151.7,278.6 152.1,279.4 152.5,279.4 152.9,278.9 153.3,279.5 153.7,278.7 154.1,278.5 154.5,278.5 154.9,277.8 155.3,277.7 155.7,277.5 156.1,277.7 156.5,277.2 156.9,275.9 157.3,276.0 157.7,274.6 158.1,274.0 158.5,273.3 158.9,272.0 159.3,271.6 159.7,269.4 160.1,267.5 160.5,267.2 160.9,265.3 161.3,264.1 161.7,261.6 162.1,261.8 162.5,260.4 162.9,259.4 163.3,258.8 163.7,258.9 164.1,258.6 164.5,259.9 164.9,260.5 165.3,261.9 165.7,263.8 166.1,265.3 166.5,266.5 166.9,269.2 167.3,270.8 167.7,272.3 168.1,274.5 168.5,275.9 168.9,277.1 169.3,278.7 169.7,281.0 170.1,280.5 170.5,281.8 170.9,282.6 171.3,283.2 171.7,283.0 172.1,283.9 172.5,284.5 172.9,285.2 173.3,285.0 173.7,285.1 174.1,286.3 174.5,286.6 174.9,286.5 175.3,286.3 175.7,286.8 176.1,286.8 176.5,287.2 176.9,286.5 177.3,287.2 177.7,287.2 178.1,286.9 178.5,287.6 178.9,287.6 179.3,287.5 179.7,288.0 180.1,287.3 180.5,288.0 180.9,288.2 181.3,288.3 181.7,288.6 182.1,287.8 182.5,287.7 182.9,288.5 183.3,288.6 183.7,289.3 184.1,288.8 184.5,288.2 184.9,288.9 185.3,288.2 185.7,288.0 186.1,289.6 186.5,288.7 186.9,288.9 187.3,288.8 187.7,289.3 188.1,288.7 188.5,289.1 188.9,288.2 189.3,288.0 189.7,289.1 190.1,289.1 190.5,288.7 190.9,288.6 191.3,288.6 191.7,288.2 192.1,289.1 192.5,288.7 192.9,288.6 193.3,288.6 193.7,288.8 194.1,288.6 194.5,288.7 194.9,287.9 195.3,288.5 195.7,289.2 196.1,288.1 196.5,288.2 196.9,288.6 197.3,288.6 197.7,288.4 198.1,287.5 198.5,288.3 198.9,287.6 199.3,287.6 199.7,288.1 200.1,287.7 200.5,288.1 200.9,289.0 201.3,288.0 201.7,287.9 202.1,287.1 202.5,287.1 202.9,286.9 203.3,287.0 203.7,286.7 204.1,286.7 204.5,286.8 204.9,286.4 205.3,286.1 205.7,286.0 206.1,286.6 206.5,286.2 206.9,286.4 207.3,286.1 207.7,285.2 208.1,285.3 208.5,284.1 208.9,285.3 209.3,284.5 209.7,283.7 210.1,283.1 210.5,283.5 210.9,282.5 211.3,282.9 211.7,283.5 212.1,283.3 212.5,283.2 212.9,283.9 213.3,283.2 213.7,283.9 214.1,283.8 214.5,283.8 214.9,284.5 215.3,284.1 215.7,285.3 216.1,284.4 216.5,285.5 216.9,284.3 217.3,284.9 217.7,284.2 218.1,284.1 218.5,284.6 218.9,284.8 219.3,283.9 219.7,284.9 220.1,284.0 220.5,284.2 220.9,284.2 221.3,284.2 221.7,283.1 222.1,284.3 222.5,283.8 222.9,283.2 223.3,282.8 223.7,282.3 224.1,282.0 224.5,282.1 224.9,281.0 225.3,279.8 225.7,279.1 226.1,278.8 226.5,276.9 226.9,275.5 227.3,275.0 227.7,273.2 228.1,271.1 228.5,268.4 228.9,265.3 229.3,262.7 229.7,260.6 230.1,258.6 230.5,256.6 230.9,254.6 231.3,253.1 231.7,252.7 232.1,252.8 232.5,253.6 232.9,255.8 233.3,257.5 233.7,259.6 234.1,261.8 234.5,264.1 234.9,267.2 235.3,270.8 235.7,273.8 236.1,276.0 236.5,278.3 236.9,279.5 237.3,280.5 237.7,282.3 238.1,284.2 238.5,284.3 238.9,286.1 239.3,287.1 239.7,287.9 240.1,287.6 240.5,289.2 240.9,288.8 241.3,289.0 241.7,289.3 242.1,289.9 242.5,290.0 242.9,290.1 243.3,290.9 243.7,290.4 244.1,290.4 244.5,291.3 244.9,291.5 245.3,291.8 245.7,291.0 246.1,292.0 246.5,291.9 246.9,292.5 247.3,291.4 247.7,292.1 248.1,292.0 248.5,291.5 248.9,291.9 249.3,292.8 249.7,292.2 250.1,292.2 250.5,292.9 250.9,293.0 251.3,293.0 251.7,292.4 252.1,292.7 252.5,293.2 252.9,292.6 253.3,292.6 253.7,293.3 254.1,293.6 254.5,292.6 254.9,292.0 255.3,292.5 255.7,292.7 256.1,293.1 256.5,293.5 256.9,293.2 257.3,293.0 257.7,293.4 258.1,293.0 258.5,293.4 258.9,293.2 259.3,294.6 259.7,293.9 260.1,293.3 260.5,293.2 260.9,293.5 261.3,293.1 261.7,293.5 262.1,293.5 262.5,294.2 262.9,293.7 263.3,293.6 263.7,293.4 264.1,293.5 264.5,294.0 264.9,294.0 265.3,294.6 265.7,293.9 266.1,294.6 266.5,294.3 266.9,294.2 267.3,293.5 267.7,293.8 268.1,294.6 268.5,294.9 268.9,294.5 269.3,294.7 269.7,294.3 270.1,294.3 270.5,294.2 270.9,294.9 271.3,294.7 271.7,294.5 272.1,294.5 272.5,294.9 272.9,294.8 273.3,294.4"/>
<polyline fill="none" stroke="#484848" stroke-width="1.1" stroke-linejoin="round" points="63.3,297.5 63.6,296.9 64.0,297.3 64.3,299.3 64.7,299.6 65.1,299.2 65.4,300.4 65.8,299.5 66.1,300.5 66.5,299.6 66.8,303.3 67.2,301.0 67.5,303.9 67.9,303.0 68.2,303.4 68.6,304.6 68.9,305.5 69.3,306.2 69.6,307.7 70.0,306.9 70.3,307.8 70.7,306.9 71.0,308.5 71.4,308.4 71.7,308.2 72.1,308.9 72.4,309.3 72.8,309.9 73.1,310.5 73.5,310.0 73.8,310.1 74.2,311.8 74.5,310.0 74.9,311.3 75.2,313.5 75.6,310.0 75.9,312.1 76.3,313.7 76.6,311.9 77.0,316.0 77.3,311.6 77.7,315.5 78.0,315.9 78.4,315.6 78.7,314.9 79.1,315.6 79.4,314.8 79.8,316.6 80.1,315.1 80.5,316.1 80.8,317.4 81.2,315.8 81.5,316.7 81.9,317.4 82.2,316.2 82.6,318.7 82.9,318.1 83.3,316.7 83.6,318.2 84.0,317.8 84.3,318.1 84.7,318.9 85.0,318.4 85.4,320.1 85.7,318.8 86.1,320.5 86.4,319.7 86.8,320.7 87.1,319.7 87.5,319.9 87.8,319.5 88.2,321.2 88.5,321.7 88.9,322.9 89.2,322.4 89.6,321.6 89.9,321.4 90.3,322.1 90.6,321.9 91.0,323.4 91.3,323.1 91.7,321.6 92.0,321.9 92.4,323.9 92.7,323.1 93.1,322.8 93.4,324.2 93.8,323.0 94.1,323.2 94.5,323.2 94.8,322.0 95.2,324.7 95.5,323.0 95.9,323.7 96.2,323.7 96.6,325.1 96.9,324.6 97.3,324.8 97.6,323.4 98.0,325.0 98.3,323.9 98.7,325.7 99.0,325.9 99.4,325.7 99.7,327.7 100.1,326.5 100.4,326.7 100.8,326.5 101.1,326.3 101.5,327.6 101.8,327.9 102.2,325.9 102.5,328.2 102.9,327.8 103.2,328.4 103.6,328.1 103.9,326.8 104.3,327.0 104.6,329.9 105.0,328.7 105.3,327.3 105.7,329.1 106.0,328.6 106.4,327.5 106.7,327.3 107.1,328.1 107.4,329.9 107.8,329.8 108.1,329.8 108.5,330.5 108.8,330.9 109.2,328.7 109.5,330.5 109.9,330.2 110.2,330.0 110.6,330.8 110.9,331.3 111.3,331.4 111.6,330.5 112.0,331.5 112.3,334.0 112.7,331.4 113.0,331.0 113.4,332.9 113.7,333.4 114.1,333.4 114.4,332.2 114.8,334.3 115.1,332.8 115.5,332.7 115.8,333.4 116.2,334.0 116.5,334.9 116.9,335.0 117.2,334.6 117.6,335.6 117.9,335.0 118.3,335.9 118.6,334.0 119.0,334.1 119.3,336.3 119.7,334.6 120.0,335.7 120.4,336.1 120.7,335.9 121.1,336.1 121.4,338.0 121.8,334.6 122.1,337.9 122.5,339.3 122.8,337.5 123.2,337.6 123.5,338.4 123.9,339.6 124.2,337.1 124.6,338.4 124.9,338.4 125.3,339.2 125.6,339.0 126.0,339.6 126.3,338.9 126.7,339.5 127.0,339.0 127.4,339.2 127.7,339.8 128.1,340.0 128.4,339.2 128.8,341.8 129.1,340.5 129.5,339.5 129.8,341.9 130.2,340.4 130.5,341.7 130.9,341.4 131.2,341.8 131.6,341.8 131.9,341.3 132.3,342.0 132.6,344.0 133.0,340.3 133.3,342.5 133.7,343.0 134.0,341.8 134.4,341.6 134.7,344.9 135.1,342.8 135.4,345.2 135.8,343.9 136.1,343.6 136.5,344.1 136.8,344.4 137.2,345.0 137.5,344.5 137.9,344.4 138.2,344.5 138.6,345.7 138.9,345.3 139.3,343.8 139.6,344.3 140.0,345.3 140.3,344.5 140.7,344.9 141.0,344.5 141.4,345.2 141.7,345.9 142.1,346.5 142.4,345.7 142.8,347.7 143.1,345.9 143.5,348.9 143.8,347.0 144.2,346.7 144.5,345.8 144.9,343.8 145.2,346.3 145.6,346.7 145.9,348.4 146.3,345.5 146.6,348.6 147.0,346.7 147.3,347.7 147.7,344.9 148.0,347.4 148.4,347.1 148.7,348.1 149.1,347.7 149.4,346.7 149.8,348.8 150.1,348.7 150.5,348.7 150.8,349.3 151.2,349.5 151.5,348.7 151.9,347.6 152.2,347.8 152.6,350.5 152.9,350.1 153.3,349.7 153.6,349.5 154.0,350.1 154.3,350.3 154.7,350.2 155.0,350.1 155.4,352.9 155.7,351.4 156.1,350.9 156.4,350.5 156.8,351.2 157.1,352.8 157.5,353.0 157.8,352.4 158.2,352.9 158.5,352.8 158.9,352.3 159.2,354.7 159.6,354.1 159.9,356.2 160.3,353.5 160.6,354.2 161.0,355.4 161.3,354.6 161.7,353.8 162.0,354.4 162.4,355.6 162.7,356.0 163.1,355.8 163.4,357.1 163.8,357.3 164.1,356.9 164.5,356.9 164.8,356.8 165.2,357.8 165.5,358.3 165.9,357.8 166.2,358.4 166.6,357.9 166.9,357.1 167.3,357.7 167.6,359.5 168.0,359.4 168.3,360.7 168.7,359.5 169.0,360.5 169.4,361.1 169.7,361.0 170.1,359.8 170.4,360.4 170.8,360.9 171.1,360.1 171.5,361.6 171.8,362.4 172.2,361.2 172.5,363.7 172.9,361.8 173.2,362.1 173.6,362.3 173.9,362.1 174.3,363.3 174.6,363.1 175.0,364.8 175.3,364.0 175.7,364.2 176.0,363.7 176.4,362.7 176.7,364.1 177.1,363.6 177.4,365.3 177.8,364.6 178.1,366.2 178.5,365.5 178.8,365.7 179.2,365.3 179.5,365.4 179.9,365.9 180.2,366.3 180.6,365.0 180.9,366.2 181.3,368.2 181.6,365.9 182.0,365.8 182.3,365.6 182.7,365.0 183.0,367.5 183.4,366.5 183.7,366.9 184.1,368.3 184.4,369.0 184.8,366.1 185.1,367.9 185.5,367.6 185.8,367.4 186.2,367.6 186.5,367.2 186.9,368.7 187.2,367.9 187.6,367.7 187.9,368.6 188.3,368.3 188.6,367.9 189.0,367.9 189.3,369.2 189.7,368.1 190.0,367.6 190.4,366.9 190.7,367.4 191.1,366.8 191.4,367.9 191.8,368.1 192.1,366.0 192.5,367.9 192.8,368.5 193.2,368.1 193.5,367.1 193.9,369.1 194.2,367.4 194.6,366.9 194.9,367.1 195.3,368.1 195.6,369.0 196.0,369.2 196.3,368.3 196.7,367.1 197.0,367.6 197.4,367.4 197.7,368.0 198.1,366.6 198.4,368.3 198.8,368.8 199.1,368.1 199.5,368.6 199.8,367.4 200.2,366.9 200.5,367.6 200.9,369.2 201.2,369.1 201.6,367.7 201.9,369.2 202.3,367.7 202.6,369.4 203.0,368.4 203.3,367.5 203.7,368.6 204.0,367.1 204.4,366.9 204.7,366.4 205.1,367.9 205.4,367.6 205.8,367.5 206.1,367.2 206.5,368.8 206.8,367.1 207.2,366.7 207.5,368.5 207.9,368.6 208.2,367.6 208.6,365.7 208.9,366.7 209.3,367.7 209.6,367.2 210.0,368.5 210.3,365.9 210.7,367.7 211.0,366.5 211.4,368.2 211.7,367.0 212.1,367.9 212.4,366.4 212.8,365.7 213.1,365.9 213.5,366.4 213.8,366.0 214.2,368.0 214.5,368.1 214.9,367.1 215.2,365.9 215.6,366.7 215.9,366.2 216.3,368.1 216.6,367.1 217.0,367.2 217.3,366.4 217.7,364.9 218.0,366.1 218.4,365.7 218.7,367.1 219.1,366.8 219.4,366.0 219.8,366.4 220.1,368.1 220.5,365.8 220.8,365.9 221.2,366.5 221.5,366.1 221.9,366.4 222.2,367.3 222.6,368.5 222.9,365.4 223.3,367.2 223.6,367.4 224.0,367.4 224.3,367.5 224.7,367.5 225.0,368.9 225.4,367.8 225.7,368.3 226.1,368.6 226.4,368.9 226.8,368.8 227.1,370.0 227.5,369.2 227.8,369.5 228.2,369.5 228.5,368.7 228.9,369.0 229.2,368.9 229.6,370.2 229.9,369.5 230.3,369.3 230.6,370.6 231.0,371.0 231.3,369.0 231.7,372.3 232.0,370.9 232.4,370.9 232.7,372.1 233.1,371.3 233.4,370.8 233.8,373.4 234.1,370.6 234.5,371.6 234.8,372.6 235.2,371.0 235.5,372.0 235.9,372.6 236.2,374.6 236.6,371.8 236.9,372.7 237.3,373.5 237.6,373.1 238.0,372.1 238.3,373.7 238.7,373.6 239.0,374.1 239.4,374.9 239.7,375.0 240.1,374.6 240.4,374.7 240.8,373.6 241.1,374.7 241.5,375.2 241.8,374.8 242.2,375.5 242.5,374.8 242.9,377.1 243.2,377.9 243.6,375.8 243.9,376.7 244.3,376.3 244.6,377.8 245.0,377.3 245.3,377.1 245.7,377.0 246.0,377.5 246.4,376.7 246.7,378.3 247.1,377.2 247.4,378.5 247.8,378.3 248.1,379.3 248.5,378.5 248.8,379.6 249.2,378.0 249.5,379.5 249.9,378.9 250.2,379.4 250.6,379.5 250.9,380.4 251.3,377.9 251.6,380.1 252.0,378.6 252.3,381.2 252.7,378.5 253.0,379.5 253.4,379.0 253.7,382.1 254.1,379.6 254.4,381.0 254.8,380.6 255.1,379.6 255.5,381.0 255.8,382.1 256.2,381.4 256.5,382.6 256.9,381.6 257.2,382.0 257.6,381.8 257.9,382.6 258.3,384.1 258.6,382.9 259.0,382.9 259.3,382.3 259.7,382.3 260.0,384.4 260.4,382.2 260.7,382.5 261.1,383.4 261.4,383.2 261.8,385.5 262.1,381.7 262.5,384.3 262.8,384.8 263.2,383.3 263.5,383.8 263.9,384.9 264.2,386.1 264.6,383.9 264.9,383.5 265.3,385.9 265.6,386.5 266.0,385.0 266.3,383.4 266.7,386.8 267.0,385.5 267.4,386.8 267.7,385.8 268.1,385.7 268.4,385.7 268.8,387.6 269.1,387.6 269.5,384.5 269.8,385.7 270.2,388.3 270.5,386.5 270.9,385.7 271.2,387.1 271.6,387.1 271.9,387.2 272.3,387.0 272.6,387.2 273.0,387.2 273.3,388.0"/>
<polyline fill="none" stroke="#E9A73A" stroke-width="1.0" stroke-linejoin="round" points="328.3,53.4 329.3,50.0 330.3,46.9 331.3,44.2 332.3,41.9 333.3,40.6 334.3,41.0 335.3,43.2 336.3,46.8 337.3,51.0 338.3,56.1 339.3,61.6 340.3,66.8 341.3,72.2 342.3,77.1 343.3,80.9 344.3,84.0 345.3,86.5 346.3,88.6 347.3,90.2 348.3,91.4 349.3,92.4 350.3,93.3 351.3,94.2 352.3,95.0 353.3,95.7 354.3,96.5 355.3,97.2 356.3,98.0 357.3,99.0 358.3,100.2 359.3,101.3 360.3,102.4 361.3,103.4 362.3,104.3 363.3,105.1 364.3,106.0 365.3,106.8 366.3,107.7 367.3,108.5 368.3,109.4 369.3,110.2 370.3,111.0 371.3,111.7 372.3,112.3 373.3,112.9 374.3,113.5 375.3,114.0 376.3,114.5 377.3,115.1 378.3,115.7 379.3,116.2 380.3,116.7 381.3,117.2 382.3,117.6 383.3,118.0 384.3,118.3 385.3,118.6 386.3,118.9 387.3,119.2 388.3,119.5 389.3,119.8 390.3,120.0 391.3,120.3 392.3,120.5 393.3,120.7 394.3,121.0 395.3,121.2 396.3,121.4 397.3,121.5 398.3,121.7 399.3,121.9 400.3,122.0 401.3,122.2 402.3,122.3 403.3,122.5 404.3,122.6 405.3,122.7 406.3,122.8 407.3,122.9 408.3,123.0 409.3,123.1 410.3,123.2 411.3,123.3 412.3,123.4 413.3,123.5 414.3,123.6 415.3,123.7 416.3,123.7 417.3,123.8 418.3,123.8 419.3,123.9 420.3,123.9 421.3,124.0 422.3,124.0 423.3,124.1 424.3,124.2 425.3,124.2 426.3,124.3 427.3,124.4 428.3,124.4 429.3,124.5 430.3,124.6 431.3,124.6 432.3,124.7 433.3,124.8 434.3,124.8 435.3,124.9 436.3,125.0 437.3,125.0 438.3,125.1 439.3,125.2 440.3,125.3 441.3,125.3 442.3,125.4 443.3,125.5 444.3,125.5 445.3,125.6 446.3,125.6 447.3,125.7 448.3,125.7 449.3,125.8 450.3,125.8 451.3,125.9 452.3,125.9 453.3,125.9 454.3,125.9 455.3,126.0 456.3,126.0 457.3,126.0 458.3,126.1 459.3,126.1 460.3,126.1 461.3,126.1 462.3,126.2 463.3,126.2 464.3,126.2 465.3,126.2 466.3,126.3 467.3,126.3 468.3,126.3 469.3,126.3 470.3,126.3 471.3,126.3 472.3,126.4 473.3,126.4 474.3,126.4 475.3,126.4 476.3,126.4 477.3,126.4 478.3,126.4 479.3,126.4 480.3,126.4 481.3,126.4 482.3,126.4 483.3,126.4 484.3,126.4 485.3,126.4 486.3,126.4 487.3,126.4 488.3,126.4 489.3,126.4 490.3,126.4 491.3,126.4 492.3,126.4 493.3,126.4 494.3,126.4 495.3,126.4 496.3,126.4 497.3,126.4 498.3,126.4 499.3,126.4 500.3,126.4 501.3,126.4 502.3,126.4 503.3,126.4 504.3,126.4 505.3,126.4 506.3,126.4 507.3,126.4 508.3,126.4 509.3,126.4 510.3,126.4 511.3,126.4 512.3,126.4 513.3,126.4 514.3,126.4 515.3,126.4 516.3,126.4 517.3,126.4 518.3,126.4 519.3,126.4 520.3,126.4 521.3,126.4 522.3,126.4 523.3,126.4 524.3,126.4 525.3,126.4 526.3,126.4 527.3,126.4 528.3,126.4 529.3,126.4 530.3,126.4 531.3,126.4 532.3,126.4 533.3,126.4 534.3,126.4 535.3,126.4 536.3,126.4"/>
<polyline fill="none" stroke="#D288F0" stroke-width="1.0" stroke-linejoin="round" points="328.6,96.0 329.6,91.7 330.6,88.3 331.6,85.8 332.6,84.0 333.6,83.2 334.6,84.8 335.6,90.5 336.6,98.6 337.6,107.0 338.6,114.2 339.6,120.5 340.6,126.4 341.6,131.4 342.6,134.9 343.6,137.4 344.6,138.8 345.6,139.9 346.6,140.8 347.6,141.3 348.6,141.4 349.6,141.5 350.6,141.6 351.6,141.7 352.6,141.9 353.6,142.1 354.6,142.5 355.6,143.0 356.6,143.6 357.6,144.2 358.6,145.1 359.6,146.2 360.6,147.5 361.6,148.8 362.6,149.9 363.6,150.9 364.6,151.8 365.6,152.6 366.6,153.5 367.6,154.3 368.6,155.0 369.6,155.8 370.6,156.5 371.6,157.1 372.6,157.7 373.6,158.3 374.6,158.9 375.6,159.6 376.6,160.3 377.6,161.0 378.6,161.7 379.6,162.3 380.6,162.9 381.6,163.5 382.6,163.8 383.6,164.2 384.6,164.5 385.6,164.8 386.6,165.1 387.6,165.4 388.6,165.7 389.6,165.9 390.6,166.1 391.6,166.3 392.6,166.5 393.6,166.6 394.6,166.7 395.6,166.8 396.6,166.9 397.6,167.0 398.6,167.1 399.6,167.2 400.6,167.3 401.6,167.4 402.6,167.4 403.6,167.5 404.6,167.6 405.6,167.7 406.6,167.7 407.6,167.8 408.6,167.8 409.6,167.9 410.6,168.0 411.6,168.0 412.6,168.1 413.6,168.1 414.6,168.2 415.6,168.2 416.6,168.2 417.6,168.3 418.6,168.3 419.6,168.4 420.6,168.4 421.6,168.4 422.6,168.5 423.6,168.5 424.6,168.5 425.6,168.6 426.6,168.6 427.6,168.6 428.6,168.7 429.6,168.7 430.6,168.7 431.6,168.8 432.6,168.8 433.6,168.8 434.6,168.8 435.6,168.9 436.6,168.9 437.6,168.9 438.6,168.9 439.6,169.0 440.6,169.0 441.6,169.0 442.6,169.0 443.6,169.0 444.6,169.1 445.6,169.1 446.6,169.1 447.6,169.1 448.6,169.1 449.6,169.2 450.6,169.2 451.6,169.2 452.6,169.2 453.6,169.2 454.6,169.2 455.6,169.3 456.6,169.3 457.6,169.3 458.6,169.3 459.6,169.3 460.6,169.3 461.6,169.3 462.6,169.4 463.6,169.4 464.6,169.4 465.6,169.4 466.6,169.4 467.6,169.4 468.6,169.4 469.6,169.4 470.6,169.4 471.6,169.5 472.6,169.5 473.6,169.5 474.6,169.5 475.6,169.5 476.6,169.5 477.6,169.5 478.6,169.5 479.6,169.5 480.6,169.6 481.6,169.6 482.6,169.6 483.6,169.6 484.6,169.6 485.6,169.6 486.6,169.6 487.6,169.6 488.6,169.6 489.6,169.6 490.6,169.7 491.6,169.7 492.6,169.7 493.6,169.7 494.6,169.7 495.6,169.7 496.6,169.7 497.6,169.7 498.6,169.7 499.6,169.7 500.6,169.7 501.6,169.7 502.6,169.8 503.6,169.8 504.6,169.8 505.6,169.8 506.6,169.8 507.6,169.8 508.6,169.8 509.6,169.8 510.6,169.8 511.6,169.8 512.6,169.8 513.6,169.8 514.6,169.8 515.6,169.8 516.6,169.8 517.6,169.8 518.6,169.9 519.6,169.9 520.6,169.9 521.6,169.9 522.6,169.9 523.6,169.9 524.6,169.9 525.6,169.9 526.6,169.9 527.6,169.9 528.6,169.9 529.6,169.9 530.6,169.9 531.6,169.9 532.6,169.9 533.6,169.9 534.6,169.9 535.6,169.9 536.6,169.9"/>
<polyline fill="none" stroke="#34C088" stroke-width="1.0" stroke-linejoin="round" points="328.6,121.2 329.6,119.7 330.6,120.2 331.6,122.6 332.6,130.0 333.6,138.2 334.6,147.0 335.6,156.3 336.6,163.5 337.6,169.4 338.6,174.5 339.6,179.2 340.6,181.5 341.6,183.2 342.6,184.4 343.6,185.2 344.6,185.8 345.6,186.3 346.6,186.7 347.6,187.0 348.6,187.3 349.6,187.4 350.6,187.6 351.6,187.7 352.6,187.9 353.6,188.3 354.6,188.8 355.6,189.3 356.6,189.9 357.6,190.5 358.6,191.1 359.6,191.7 360.6,192.3 361.6,192.9 362.6,193.5 363.6,194.1 364.6,194.6 365.6,195.0 366.6,195.4 367.6,195.8 368.6,196.1 369.6,196.5 370.6,196.7 371.6,196.9 372.6,197.1 373.6,197.2 374.6,197.3 375.6,197.4 376.6,197.4 377.6,197.5 378.6,197.6 379.6,197.7 380.6,197.8 381.6,198.0 382.6,198.1 383.6,198.2 384.6,198.3 385.6,198.4 386.6,198.5 387.6,198.6 388.6,198.8 389.6,198.9 390.6,199.0 391.6,199.1 392.6,199.2 393.6,199.2 394.6,199.3 395.6,199.4 396.6,199.5 397.6,199.5 398.6,199.6 399.6,199.7 400.6,199.7 401.6,199.8 402.6,199.9 403.6,199.9 404.6,200.0 405.6,200.0 406.6,200.1 407.6,200.1 408.6,200.2 409.6,200.3 410.6,200.3 411.6,200.4 412.6,200.4 413.6,200.5 414.6,200.5 415.6,200.6 416.6,200.6 417.6,200.7 418.6,200.7 419.6,200.7 420.6,200.8 421.6,200.8 422.6,200.9 423.6,200.9 424.6,201.0 425.6,201.0 426.6,201.1 427.6,201.1 428.6,201.2 429.6,201.2 430.6,201.3 431.6,201.3 432.6,201.4 433.6,201.4 434.6,201.5 435.6,201.5 436.6,201.5 437.6,201.6 438.6,201.6 439.6,201.6 440.6,201.6 441.6,201.6 442.6,201.6 443.6,201.7 444.6,201.7 445.6,201.7 446.6,201.7 447.6,201.7 448.6,201.7 449.6,201.8 450.6,201.8 451.6,201.8 452.6,201.8 453.6,201.8 454.6,201.8 455.6,201.8 456.6,201.9 457.6,201.9 458.6,201.9 459.6,201.9 460.6,201.9 461.6,201.9 462.6,201.9 463.6,201.9 464.6,202.0 465.6,202.0 466.6,202.0 467.6,202.0 468.6,202.0 469.6,202.0 470.6,202.0 471.6,202.0 472.6,202.0 473.6,202.1 474.6,202.1 475.6,202.1 476.6,202.1 477.6,202.1 478.6,202.1 479.6,202.1 480.6,202.1 481.6,202.1 482.6,202.1 483.6,202.2 484.6,202.2 485.6,202.2 486.6,202.2 487.6,202.2 488.6,202.2 489.6,202.2 490.6,202.2 491.6,202.2 492.6,202.2 493.6,202.2 494.6,202.2 495.6,202.3 496.6,202.3 497.6,202.3 498.6,202.3 499.6,202.3 500.6,202.3 501.6,202.3 502.6,202.3 503.6,202.3 504.6,202.3 505.6,202.3 506.6,202.3 507.6,202.3 508.6,202.3 509.6,202.3 510.6,202.3 511.6,202.3 512.6,202.3 513.6,202.4 514.6,202.4 515.6,202.4 516.6,202.4 517.6,202.4 518.6,202.4 519.6,202.4 520.6,202.4 521.6,202.4 522.6,202.4 523.6,202.4 524.6,202.4 525.6,202.4 526.6,202.4 527.6,202.4 528.6,202.4 529.6,202.4 530.6,202.4 531.6,202.4 532.6,202.4 533.6,202.4 534.6,202.4 535.6,202.4 536.6,202.4"/>
<polyline fill="none" stroke="#2A80EE" stroke-width="1.0" stroke-linejoin="round" points="329.1,200.9 329.9,210.1 330.7,215.2 331.5,219.2 332.3,222.0 333.1,225.0 333.9,228.3 334.7,230.9 335.5,233.4 336.3,235.5 337.1,237.9 337.9,239.6 338.7,240.5 339.5,241.2 340.3,242.0 341.1,242.1 341.9,242.1 342.7,239.7 343.5,235.3 344.3,232.0 345.1,228.5 345.9,225.5 346.7,222.8 347.5,222.1 348.3,222.0 349.1,223.9 349.9,226.2 350.7,229.6 351.5,235.1 352.3,240.4 353.1,245.3 353.9,249.1 354.7,253.6 355.5,257.0 356.3,260.1 357.1,262.6 357.9,264.7 358.7,267.3 359.5,268.9 360.3,270.5 361.1,271.3 361.9,271.6 362.7,272.4 363.5,272.9 364.3,273.2 365.1,274.0 365.9,274.6 366.7,274.3 367.5,274.7 368.3,274.5 369.1,275.4 369.9,275.6 370.7,275.4 371.5,276.4 372.3,276.8 373.1,276.8 373.9,277.2 374.7,277.5 375.5,278.5 376.3,278.3 377.1,279.2 377.9,280.5 378.7,280.4 379.5,281.1 380.3,281.5 381.1,281.7 381.9,282.6 382.7,283.2 383.5,283.3 384.3,284.2 385.1,285.0 385.9,285.4 386.7,285.1 387.5,285.8 388.3,286.1 389.1,287.4 389.9,287.8 390.7,288.3 391.5,288.3 392.3,288.7 393.1,289.5 393.9,290.0 394.7,290.2 395.5,291.0 396.3,291.6 397.1,291.9 397.9,291.9 398.7,292.0 399.5,292.9 400.3,293.4 401.1,293.6 401.9,293.9 402.7,294.1 403.5,294.8 404.3,294.9 405.1,295.3 405.9,295.2 406.7,295.6 407.5,296.2 408.3,296.1 409.1,296.3 409.9,296.9 410.7,297.6 411.5,297.5 412.3,298.1 413.1,297.9 413.9,298.0 414.7,297.9 415.5,298.4 416.3,299.1 417.1,299.0 417.9,299.3 418.7,299.5 419.5,299.4 420.3,299.5 421.1,299.8 421.9,300.1 422.7,300.2 423.5,300.3 424.3,300.4 425.1,300.2 425.9,300.5 426.7,300.4 427.5,301.1 428.3,300.3 429.1,301.0 429.9,301.9 430.7,301.2 431.5,301.0 432.3,301.5 433.1,302.0 433.9,301.6 434.7,302.0 435.5,301.9 436.3,301.9 437.1,303.0 437.9,302.2 438.7,302.1 439.5,302.2 440.3,302.6 441.1,302.6 441.9,302.8 442.7,302.7 443.5,302.3 444.3,303.0 445.1,302.8 445.9,302.9 446.7,302.6 447.5,302.9 448.3,302.9 449.1,303.2 449.9,302.8 450.7,303.3 451.5,303.4 452.3,303.0 453.1,303.2 453.9,303.2 454.7,303.7 455.5,302.7 456.3,303.4 457.1,303.0 457.9,303.4 458.7,303.8 459.5,303.4 460.3,303.6 461.1,303.4 461.9,304.2 462.7,303.9 463.5,304.0 464.3,303.3 465.1,303.4 465.9,304.0 466.7,303.7 467.5,303.7 468.3,303.9 469.1,303.4 469.9,304.0 470.7,303.8 471.5,303.9 472.3,303.6 473.1,304.0 473.9,303.6 474.7,304.1 475.5,304.2 476.3,304.1 477.1,304.0 477.9,304.1 478.7,303.1 479.5,304.1 480.3,303.8 481.1,303.9 481.9,303.8 482.7,303.5 483.5,303.8 484.3,304.1 485.1,304.4 485.9,303.8 486.7,303.7 487.5,304.4 488.3,303.7 489.1,304.6 489.9,304.0 490.7,303.7 491.5,304.3 492.3,304.5 493.1,303.6 493.9,304.5 494.7,303.9 495.5,304.5 496.3,303.9 497.1,303.6 497.9,304.2 498.7,304.3 499.5,304.7 500.3,304.6 501.1,304.3 501.9,304.0 502.7,303.9 503.5,304.0 504.3,303.8 505.1,304.0 505.9,303.3 506.7,304.2 507.5,304.1 508.3,304.9 509.1,304.3 509.9,304.0 510.7,304.3 511.5,303.8 512.3,304.0 513.1,303.6 513.9,304.6 514.7,304.3 515.5,303.8 516.3,304.1 517.1,304.4 517.9,304.3 518.7,304.3 519.5,303.9 520.3,304.0 521.1,304.2 521.9,304.4 522.7,303.9 523.5,303.8 524.3,304.5 525.1,303.9 525.9,304.5 526.7,304.3 527.5,304.5 528.3,304.7 529.1,304.4 529.9,304.4 530.7,303.9 531.5,304.0 532.3,304.4 533.1,304.7 533.9,304.6 534.7,304.9 535.5,304.3 536.3,304.3 537.1,304.5"/>
<polyline fill="none" stroke="#F66464" stroke-width="1.0" stroke-linejoin="round" points="329.0,255.1 330.0,261.6 331.0,265.0 332.0,267.1 333.0,268.5 334.0,268.9 335.0,268.7 336.0,268.1 337.0,267.4 338.0,266.4 339.0,264.6 340.0,262.8 341.0,261.2 342.0,259.5 343.0,258.5 344.0,259.1 345.0,261.8 346.0,267.2 347.0,275.1 348.0,283.1 349.0,291.5 350.0,298.4 351.0,304.2 352.0,309.4 353.0,313.8 354.0,317.9 355.0,321.0 356.0,323.0 357.0,324.8 358.0,326.4 359.0,327.6 360.0,328.6 361.0,329.2 362.0,329.8 363.0,330.3 364.0,330.8 365.0,331.1 366.0,331.2 367.0,331.2 368.0,331.0 369.0,330.8 370.0,330.5 371.0,330.3 372.0,330.1 373.0,329.8 374.0,329.6 375.0,329.3 376.0,329.0 377.0,328.8 378.0,328.6 379.0,328.5 380.0,328.5 381.0,328.6 382.0,328.8 383.0,329.1 384.0,329.3 385.0,329.6 386.0,329.8 387.0,330.0 388.0,330.3 389.0,330.6 390.0,330.8 391.0,331.0 392.0,331.2 393.0,331.4 394.0,331.6 395.0,331.8 396.0,332.0 397.0,332.2 398.0,332.4 399.0,332.5 400.0,332.7 401.0,332.8 402.0,333.0 403.0,333.1 404.0,333.3 405.0,333.4 406.0,333.5 407.0,333.6 408.0,333.8 409.0,333.9 410.0,334.0 411.0,334.1 412.0,334.2 413.0,334.3 414.0,334.4 415.0,334.5 416.0,334.6 417.0,334.7 418.0,334.8 419.0,334.8 420.0,334.9 421.0,335.0 422.0,335.1 423.0,335.2 424.0,335.2 425.0,335.3 426.0,335.4 427.0,335.4 428.0,335.5 429.0,335.5 430.0,335.6 431.0,335.7 432.0,335.7 433.0,335.8 434.0,335.8 435.0,335.9 436.0,335.9 437.0,336.0 438.0,336.0 439.0,336.1 440.0,336.2 441.0,336.2 442.0,336.3 443.0,336.3 444.0,336.4 445.0,336.4 446.0,336.5 447.0,336.5 448.0,336.6 449.0,336.6 450.0,336.7 451.0,336.7 452.0,336.7 453.0,336.8 454.0,336.8 455.0,336.9 456.0,336.9 457.0,337.0 458.0,337.0 459.0,337.0 460.0,337.1 461.0,337.1 462.0,337.1 463.0,337.2 464.0,337.2 465.0,337.2 466.0,337.3 467.0,337.3 468.0,337.3 469.0,337.4 470.0,337.4 471.0,337.4 472.0,337.4 473.0,337.5 474.0,337.5 475.0,337.5 476.0,337.5 477.0,337.5 478.0,337.6 479.0,337.6 480.0,337.6 481.0,337.6 482.0,337.6 483.0,337.6 484.0,337.7 485.0,337.7 486.0,337.7 487.0,337.7 488.0,337.7 489.0,337.7 490.0,337.7 491.0,337.8 492.0,337.8 493.0,337.8 494.0,337.8 495.0,337.8 496.0,337.8 497.0,337.8 498.0,337.8 499.0,337.9 500.0,337.9 501.0,337.9 502.0,337.9 503.0,337.9 504.0,337.9 505.0,337.9 506.0,337.9 507.0,337.9 508.0,337.9 509.0,338.0 510.0,338.0 511.0,338.0 512.0,338.0 513.0,338.0 514.0,338.0 515.0,338.0 516.0,338.0 517.0,338.0 518.0,338.0 519.0,338.0 520.0,338.0 521.0,338.0 522.0,338.1 523.0,338.1 524.0,338.1 525.0,338.1 526.0,338.1 527.0,338.1 528.0,338.1 529.0,338.1 530.0,338.1 531.0,338.1 532.0,338.1 533.0,338.1 534.0,338.1 535.0,338.1 536.0,338.1 537.0,338.1"/>
<polyline fill="none" stroke="#707070" stroke-width="1.0" stroke-linejoin="round" points="328.6,297.4 329.6,307.8 330.6,312.3 331.6,311.4 332.6,309.4 333.6,307.0 334.6,303.9 335.6,300.5 336.6,297.2 337.6,293.5 338.6,291.2 339.6,292.1 340.6,295.2 341.6,300.0 342.6,308.5 343.6,317.0 344.6,322.9 345.6,327.8 346.6,332.0 347.6,335.5 348.6,338.7 349.6,341.7 350.6,344.0 351.6,345.6 352.6,346.5 353.6,347.4 354.6,348.0 355.6,348.3 356.6,348.4 357.6,348.4 358.6,348.4 359.6,348.4 360.6,348.4 361.6,348.4 362.6,348.4 363.6,348.5 364.6,348.8 365.6,349.2 366.6,349.9 367.6,350.6 368.6,351.3 369.6,352.0 370.6,352.7 371.6,353.6 372.6,354.6 373.6,355.6 374.6,356.5 375.6,357.4 376.6,358.2 377.6,359.0 378.6,359.7 379.6,360.5 380.6,361.1 381.6,361.7 382.6,362.3 383.6,362.7 384.6,363.1 385.6,363.5 386.6,363.8 387.6,364.2 388.6,364.5 389.6,364.8 390.6,365.0 391.6,365.3 392.6,365.5 393.6,365.7 394.6,365.9 395.6,366.1 396.6,366.3 397.6,366.4 398.6,366.6 399.6,366.8 400.6,366.9 401.6,367.1 402.6,367.2 403.6,367.3 404.6,367.5 405.6,367.6 406.6,367.7 407.6,367.8 408.6,367.9 409.6,368.0 410.6,368.1 411.6,368.2 412.6,368.3 413.6,368.4 414.6,368.5 415.6,368.6 416.6,368.7 417.6,368.7 418.6,368.8 419.6,368.9 420.6,369.0 421.6,369.0 422.6,369.1 423.6,369.1 424.6,369.2 425.6,369.3 426.6,369.3 427.6,369.3 428.6,369.4 429.6,369.4 430.6,369.5 431.6,369.5 432.6,369.5 433.6,369.6 434.6,369.6 435.6,369.7 436.6,369.7 437.6,369.7 438.6,369.8 439.6,369.8 440.6,369.8 441.6,369.9 442.6,369.9 443.6,369.9 444.6,370.0 445.6,370.0 446.6,370.0 447.6,370.1 448.6,370.1 449.6,370.1 450.6,370.2 451.6,370.2 452.6,370.2 453.6,370.3 454.6,370.3 455.6,370.3 456.6,370.3 457.6,370.4 458.6,370.4 459.6,370.4 460.6,370.4 461.6,370.4 462.6,370.5 463.6,370.5 464.6,370.5 465.6,370.5 466.6,370.5 467.6,370.6 468.6,370.6 469.6,370.6 470.6,370.6 471.6,370.6 472.6,370.6 473.6,370.6 474.6,370.7 475.6,370.7 476.6,370.7 477.6,370.7 478.6,370.7 479.6,370.7 480.6,370.7 481.6,370.7 482.6,370.7 483.6,370.7 484.6,370.7 485.6,370.7 486.6,370.7 487.6,370.7 488.6,370.8 489.6,370.8 490.6,370.8 491.6,370.8 492.6,370.8 493.6,370.8 494.6,370.8 495.6,370.8 496.6,370.8 497.6,370.8 498.6,370.8 499.6,370.8 500.6,370.8 501.6,370.8 502.6,370.8 503.6,370.8 504.6,370.8 505.6,370.8 506.6,370.8 507.6,370.8 508.6,370.8 509.6,370.8 510.6,370.9 511.6,370.9 512.6,370.9 513.6,370.9 514.6,370.9 515.6,370.9 516.6,370.9 517.6,370.9 518.6,370.9 519.6,370.9 520.6,370.9 521.6,370.9 522.6,370.9 523.6,370.9 524.6,370.9 525.6,370.9 526.6,370.9 527.6,370.9 528.6,370.9 529.6,370.9 530.6,370.9 531.6,370.9 532.6,370.9 533.6,370.9 534.6,370.9 535.6,370.9 536.6,370.9"/>
<line x1="328.8" y1="131.5" x2="328.8" y2="201" stroke="#1466DC" stroke-width="1.2"/>
<line x1="328.8" y1="223" x2="328.8" y2="255" stroke="#F03C3C" stroke-width="1.2"/>
<circle cx="79.1" cy="51.9" r="2.5" fill="#000"/><circle cx="120.6" cy="41.5" r="2.5" fill="#000"/><circle cx="135.9" cy="39.4" r="2.5" fill="#000"/><circle cx="144.4" cy="52.7" r="2.5" fill="#000"/><circle cx="163.9" cy="46.6" r="2.5" fill="#000"/><circle cx="212.1" cy="61.1" r="2.5" fill="#000"/><circle cx="231.6" cy="45.2" r="2.5" fill="#000"/><polygon points="123.6,32.5 126.5,35.8 123.6,39.099999999999994 120.69999999999999,35.8" fill="#000"/><polygon points="129.5,32.5 132.4,35.8 129.5,39.099999999999994 126.6,35.8" fill="#000"/><polygon points="142.3,41.7 145.20000000000002,45 142.3,48.3 139.4,45" fill="#000"/><polygon points="177.9,61.400000000000006 180.8,64.7 177.9,68.0 175.0,64.7" fill="#000"/><polygon points="241.8,66.10000000000001 244.70000000000002,69.4 241.8,72.7 238.9,69.4" fill="#000"/>
<path d="M63,25.7 V396.5 M62.2,393 H274.4" stroke="#111" stroke-width="1.3" fill="none"/>
<path d="M79.2,393 V400 M111.6,393 V400 M144.0,393 V400 M176.4,393 V400 M208.8,393 V400 M241.2,393 V400 M273.6,393 V400 M95.4,393 V397 M127.8,393 V397 M160.2,393 V397 M192.6,393 V397 M225.0,393 V397 M257.4,393 V397" stroke="#111" stroke-width="1.4" fill="none"/>
<path d="M328,25.6 V392.8 M327.2,392 H539.4" stroke="#111" stroke-width="1.3" fill="none"/>
<path d="M341.8,392 V398.8 M381.2,392 V398.8 M420.5,392 V398.8 M459.9,392 V398.8 M499.2,392 V398.8 M538.6,392 V398.8 M361.5,392 V395.5 M400.8,392 V395.5 M440.2,392 V395.5 M479.6,392 V395.5 M518.9,392 V395.5" stroke="#111" stroke-width="1.4" fill="none"/>
<line x1="328.5" y1="131.5" x2="328.5" y2="167" stroke="#2E84F0" stroke-width="1.1"/><line x1="328.5" y1="223.5" x2="328.5" y2="254" stroke="#F25858" stroke-width="1.1"/>
<text x="79.2" y="416.8" font-family="Liberation Sans, sans-serif" font-size="15" text-anchor="middle" fill="#111">20</text><text x="111.6" y="416.8" font-family="Liberation Sans, sans-serif" font-size="15" text-anchor="middle" fill="#111">30</text><text x="144.0" y="416.8" font-family="Liberation Sans, sans-serif" font-size="15" text-anchor="middle" fill="#111">40</text><text x="176.4" y="416.8" font-family="Liberation Sans, sans-serif" font-size="15" text-anchor="middle" fill="#111">50</text><text x="208.8" y="416.8" font-family="Liberation Sans, sans-serif" font-size="15" text-anchor="middle" fill="#111">60</text><text x="241.2" y="416.8" font-family="Liberation Sans, sans-serif" font-size="15" text-anchor="middle" fill="#111">70</text><text x="273.6" y="416.8" font-family="Liberation Sans, sans-serif" font-size="15" text-anchor="middle" fill="#111">80</text><text x="341.8" y="416.2" font-family="Liberation Sans, sans-serif" font-size="15" text-anchor="middle" fill="#111">1</text><text x="381.2" y="416.2" font-family="Liberation Sans, sans-serif" font-size="15" text-anchor="middle" fill="#111">2</text><text x="420.5" y="416.2" font-family="Liberation Sans, sans-serif" font-size="15" text-anchor="middle" fill="#111">3</text><text x="459.9" y="416.2" font-family="Liberation Sans, sans-serif" font-size="15" text-anchor="middle" fill="#111">4</text><text x="499.2" y="416.2" font-family="Liberation Sans, sans-serif" font-size="15" text-anchor="middle" fill="#111">5</text><text x="538.6" y="416.2" font-family="Liberation Sans, sans-serif" font-size="15" text-anchor="middle" fill="#111">6</text>
<text x="161.2" y="443.3" font-family="Liberation Sans, sans-serif" font-size="20" fill="#111">2</text>
<text x="427.7" y="445.1" font-family="Liberation Sans, sans-serif" font-size="20" fill="#111">2</text>
<text transform="translate(45.6,268.6) rotate(-90)" font-family="Liberation Sans, sans-serif" font-size="19" fill="#111">Intensity (a.u.)</text>
<text transform="translate(311.0,268.6) rotate(-90)" font-family="Liberation Sans, sans-serif" font-size="19" fill="#111">Intensity (a.u.)</text>
<path fill-rule="evenodd" fill="#111" d="M172.2,437.3 a4.15,6.25 0 1,0 8.3,0 a4.15,6.25 0 1,0 -8.3,0 Z M174.25,437.3 a2.1,5.3 0 1,0 4.2,0 a2.1,5.3 0 1,0 -4.2,0 Z"/><rect x="174.15" y="436.40000000000003" width="4.4" height="1" fill="#111"/>
<path fill-rule="evenodd" fill="#111" d="M438.55,439.0 a4.15,6.25 0 1,0 8.3,0 a4.15,6.25 0 1,0 -8.3,0 Z M440.59999999999997,439.0 a2.1,5.3 0 1,0 4.2,0 a2.1,5.3 0 1,0 -4.2,0 Z"/><rect x="440.5" y="438.1" width="4.4" height="1" fill="#111"/>
<text x="2" y="21.8" font-family="Liberation Serif, serif" font-weight="bold" font-size="21" fill="#111">a.</text>
<text x="290" y="24.6" font-family="Liberation Serif, serif" font-weight="bold" font-size="21" letter-spacing="1" fill="#111">b.</text>
<circle cx="92.3" cy="13.3" r="2.5" fill="#000"/><text x="101.3" y="18" font-family="Liberation Sans, sans-serif" font-size="14" letter-spacing="0.55" fill="#111"><tspan font-family="Liberation Serif, serif" font-style="italic" font-size="15.5">γ</tspan><tspan dx="0.4">-</tspan>Al<tspan font-size="11" dy="5">2</tspan><tspan dy="-5">O</tspan><tspan font-size="11" dy="5">3</tspan></text>
<polygon points="206,10.3 208.8,13.5 206,16.7 203.2,13.5" fill="#000"/><text x="212.3" y="18.4" font-family="Liberation Sans, sans-serif" font-size="15" letter-spacing="0.9" fill="#111">CuO</text>
<text x="330.3" y="35.8" font-family="Liberation Sans, sans-serif" font-size="15" letter-spacing="0.6" fill="#111">100</text><text x="350.8" y="89.2" font-family="Liberation Sans, sans-serif" font-size="15" letter-spacing="1.1" fill="#111">110</text><text x="365.2" y="103.7" font-family="Liberation Sans, sans-serif" font-size="15" letter-spacing="1.0" fill="#111">200</text>
<text x="70.2" y="85" font-family="Liberation Sans, sans-serif" font-size="15" letter-spacing="0.3" text-anchor="start" fill="#C68518" stroke="#C68518" stroke-width="0.1"><tspan dy="0">CZZ@Al</tspan><tspan font-size="11" dy="4.6" fill-opacity="0.8" stroke-width="0">2</tspan><tspan dy="-4.6">O</tspan><tspan font-size="11" dy="4.6" fill-opacity="0.8" stroke-width="0">3</tspan><tspan dy="-4.6">_B</tspan></text>
<text x="77.5" y="127" font-family="Liberation Sans, sans-serif" font-size="15" letter-spacing="0.3" text-anchor="start" fill="#CC6BF0" stroke="#CC6BF0" stroke-width="0.1"><tspan dy="0">Al</tspan><tspan font-size="11" dy="4.6" fill-opacity="0.8" stroke-width="0">2</tspan><tspan dy="-4.6">O</tspan><tspan font-size="11" dy="4.6" fill-opacity="0.8" stroke-width="0">3</tspan><tspan dy="-4.6">_B_900</tspan></text>
<text x="72.6" y="189" font-family="Liberation Sans, sans-serif" font-size="15" letter-spacing="0.3" text-anchor="start" fill="#139A1A" stroke="#139A1A" stroke-width="0.1"><tspan dy="0">Al</tspan><tspan font-size="11" dy="4.6" fill-opacity="0.8" stroke-width="0">2</tspan><tspan dy="-4.6">O</tspan><tspan font-size="11" dy="4.6" fill-opacity="0.8" stroke-width="0">3</tspan><tspan dy="-4.6">_B_400</tspan></text>
<text x="69.6" y="249.4" font-family="Liberation Sans, sans-serif" font-size="15" letter-spacing="0.3" text-anchor="start" fill="#1C46F2" stroke="#1C46F2" stroke-width="0.1"><tspan dy="0">CZZ@Al</tspan><tspan font-size="11" dy="4.6" fill-opacity="0.8" stroke-width="0">2</tspan><tspan dy="-4.6">O</tspan><tspan font-size="11" dy="4.6" fill-opacity="0.8" stroke-width="0">3</tspan><tspan dy="-4.6">_A</tspan></text>
<text x="72.8" y="294" font-family="Liberation Sans, sans-serif" font-size="15" letter-spacing="0.3" text-anchor="start" fill="#F0323C" stroke="#F0323C" stroke-width="0.1"><tspan dy="0">Al</tspan><tspan font-size="11" dy="4.6" fill-opacity="0.8" stroke-width="0">2</tspan><tspan dy="-4.6">O</tspan><tspan font-size="11" dy="4.6" fill-opacity="0.8" stroke-width="0">3</tspan><tspan dy="-4.6">_A_900</tspan></text>
<text x="73.2" y="375.4" font-family="Liberation Sans, sans-serif" font-size="15" letter-spacing="0.3" text-anchor="start" fill="#1a1a1a" stroke="#1a1a1a" stroke-width="0.1"><tspan dy="0">Al</tspan><tspan font-size="11" dy="4.6" fill-opacity="0.8" stroke-width="0">2</tspan><tspan dy="-4.6">O</tspan><tspan font-size="11" dy="4.6" fill-opacity="0.8" stroke-width="0">3</tspan><tspan dy="-4.6">_A_400</tspan></text>
<text x="540.4" y="143.6" font-family="Liberation Sans, sans-serif" font-size="15" letter-spacing="0.3" text-anchor="end" fill="#C68518" stroke="#C68518" stroke-width="0.1"><tspan dy="0">CZZ@Al</tspan><tspan font-size="11" dy="4.6" fill-opacity="0.8" stroke-width="0">2</tspan><tspan dy="-4.6">O</tspan><tspan font-size="11" dy="4.6" fill-opacity="0.8" stroke-width="0">3</tspan><tspan dy="-4.6">_B</tspan></text>
<text x="538.6" y="185.8" font-family="Liberation Sans, sans-serif" font-size="15" letter-spacing="0.3" text-anchor="end" fill="#CC6BF0" stroke="#CC6BF0" stroke-width="0.1"><tspan dy="0">Al</tspan><tspan font-size="11" dy="4.6" fill-opacity="0.8" stroke-width="0">2</tspan><tspan dy="-4.6">O</tspan><tspan font-size="11" dy="4.6" fill-opacity="0.8" stroke-width="0">3</tspan><tspan dy="-4.6">_B_900</tspan></text>
<text x="538.4" y="219.3" font-family="Liberation Sans, sans-serif" font-size="15" letter-spacing="0.3" text-anchor="end" fill="#139A1A" stroke="#139A1A" stroke-width="0.1"><tspan dy="0">Al</tspan><tspan font-size="11" dy="4.6" fill-opacity="0.8" stroke-width="0">2</tspan><tspan dy="-4.6">O</tspan><tspan font-size="11" dy="4.6" fill-opacity="0.8" stroke-width="0">3</tspan><tspan dy="-4.6">_B_400</tspan></text>
<text x="538.6" y="320.8" font-family="Liberation Sans, sans-serif" font-size="15" letter-spacing="0.3" text-anchor="end" fill="#1C46F2" stroke="#1C46F2" stroke-width="0.1"><tspan dy="0">CZZ@Al</tspan><tspan font-size="11" dy="4.6" fill-opacity="0.8" stroke-width="0">2</tspan><tspan dy="-4.6">O</tspan><tspan font-size="11" dy="4.6" fill-opacity="0.8" stroke-width="0">3</tspan><tspan dy="-4.6">_A</tspan></text>
<text x="538.0" y="356.2" font-family="Liberation Sans, sans-serif" font-size="15" letter-spacing="0.3" text-anchor="end" fill="#F0323C" stroke="#F0323C" stroke-width="0.1"><tspan dy="0">Al</tspan><tspan font-size="11" dy="4.6" fill-opacity="0.8" stroke-width="0">2</tspan><tspan dy="-4.6">O</tspan><tspan font-size="11" dy="4.6" fill-opacity="0.8" stroke-width="0">3</tspan><tspan dy="-4.6">_A_900</tspan></text>
<text x="539.5" y="385.7" font-family="Liberation Sans, sans-serif" font-size="15" letter-spacing="0.3" text-anchor="end" fill="#1a1a1a" stroke="#1a1a1a" stroke-width="0.1"><tspan dy="0">Al</tspan><tspan font-size="11" dy="4.6" fill-opacity="0.8" stroke-width="0">2</tspan><tspan dy="-4.6">O</tspan><tspan font-size="11" dy="4.6" fill-opacity="0.8" stroke-width="0">3</tspan><tspan dy="-4.6">_A_400</tspan></text>

</svg>
</body></html>
